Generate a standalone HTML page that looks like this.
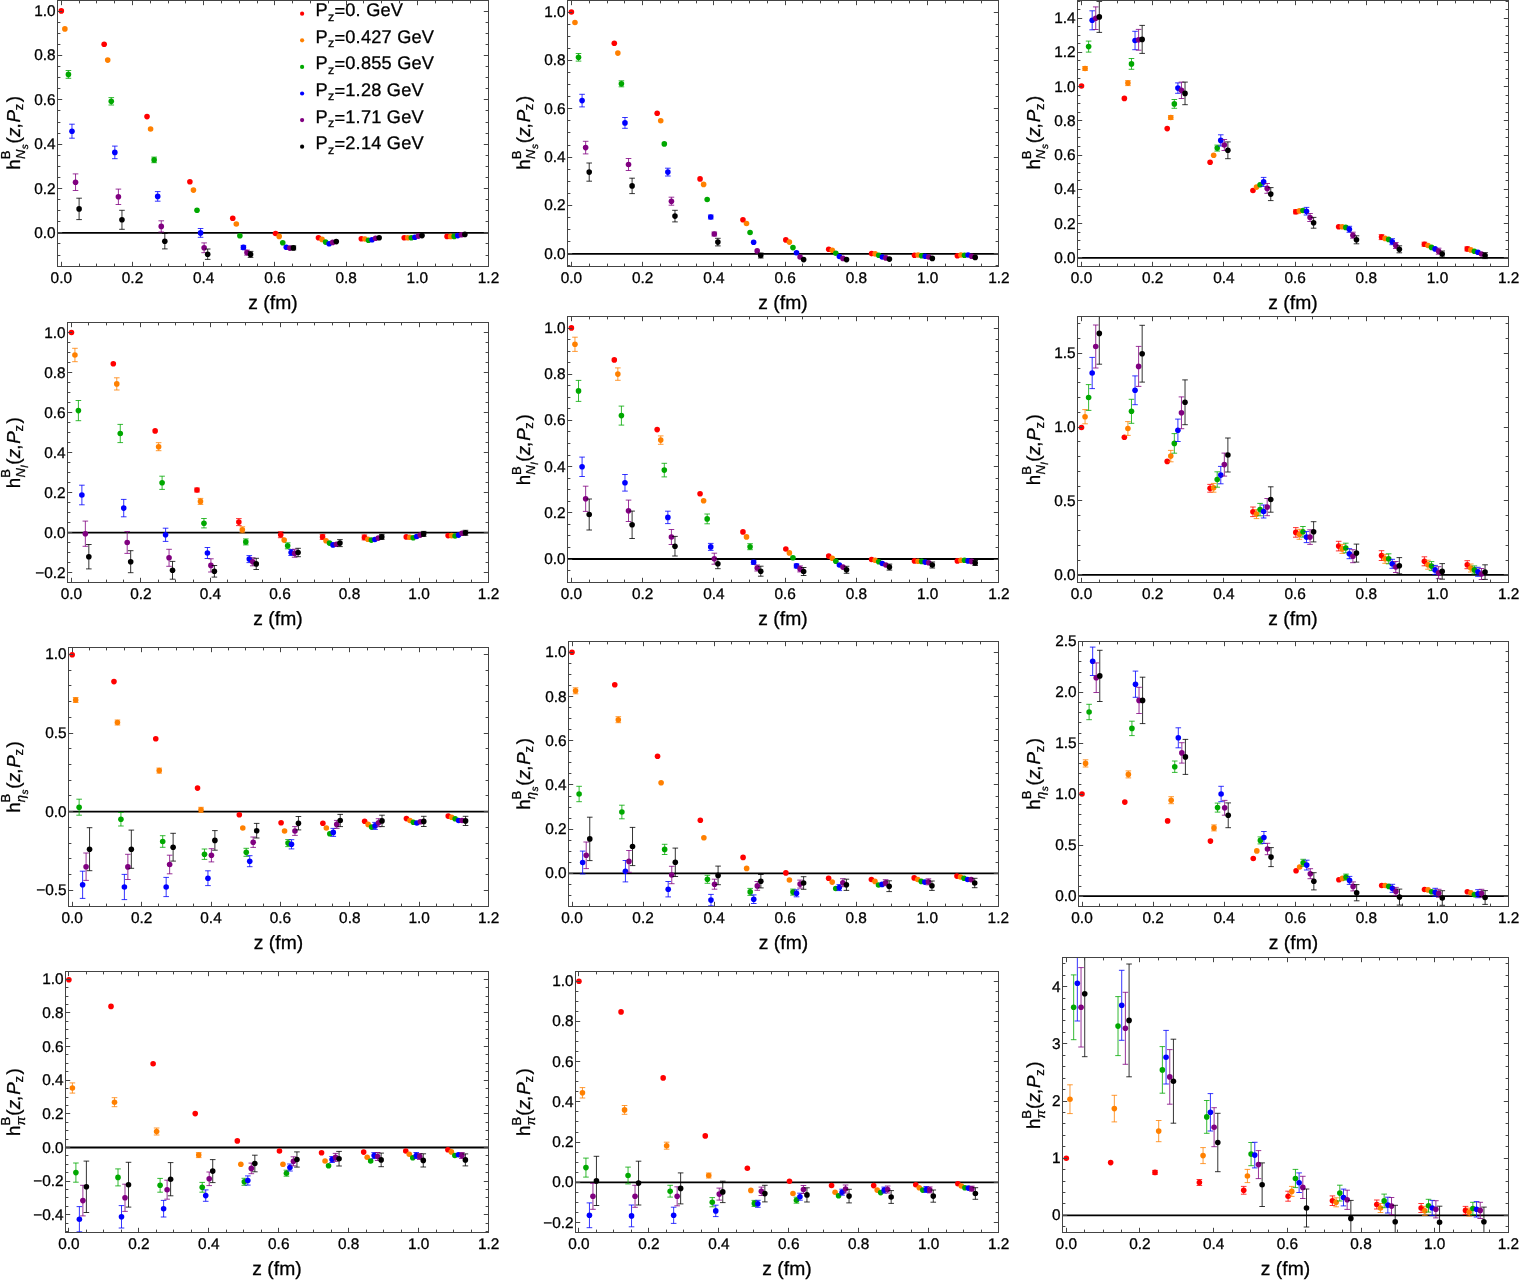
<!DOCTYPE html><html><head><meta charset="utf-8"><title>h^B(z,Pz) plots</title><style>html,body{margin:0;padding:0;background:#fff;overflow:hidden}svg{display:block}text{stroke:#000;stroke-width:0.3px}</style></head><body><svg width="1519" height="1280" viewBox="0 0 1519 1280" font-family='"Liberation Sans", Arial, Helvetica, sans-serif' fill="#000" text-rendering="geometricPrecision"><rect width="1519" height="1280" fill="#fff"/><clipPath id="c0"><rect x="57.50" y="0.50" width="431.00" height="266.00"/></clipPath><g clip-path="url(#c0)">
<line x1="57.50" y1="232.90" x2="488.50" y2="232.90" stroke="#000" stroke-width="1.8"/>
<path d="M275.61 232.50V234.50M272.81 232.50h5.60M272.81 234.50h5.60" stroke="#ff0000" stroke-width="0.8" fill="none"/>
<g fill="#ff0000"><circle cx="61.30" cy="10.90" r="2.8"/><circle cx="104.16" cy="44.20" r="2.8"/><circle cx="147.02" cy="116.60" r="2.8"/><circle cx="189.89" cy="181.80" r="2.8"/><circle cx="232.75" cy="218.30" r="2.8"/><circle cx="275.61" cy="233.50" r="2.8"/><circle cx="318.47" cy="237.80" r="2.8"/><circle cx="361.34" cy="238.70" r="2.8"/><circle cx="404.20" cy="237.80" r="2.8"/><circle cx="447.06" cy="236.40" r="2.8"/></g>
<g fill="#ff8000"><circle cx="64.86" cy="28.90" r="2.8"/><circle cx="107.72" cy="60.10" r="2.8"/><circle cx="150.58" cy="129.00" r="2.8"/><circle cx="193.45" cy="190.10" r="2.8"/><circle cx="236.31" cy="224.00" r="2.8"/><circle cx="279.17" cy="236.40" r="2.8"/><circle cx="322.03" cy="239.40" r="2.8"/><circle cx="364.90" cy="239.00" r="2.8"/><circle cx="407.76" cy="237.80" r="2.8"/><circle cx="450.62" cy="236.40" r="2.8"/></g>
<path d="M68.42 70.50V78.30M65.62 70.50h5.60M65.62 78.30h5.60M111.28 97.60V105.00M108.48 97.60h5.60M108.48 105.00h5.60M154.14 157.10V162.70M151.34 157.10h5.60M151.34 162.70h5.60" stroke="#00a800" stroke-width="0.8" fill="none"/>
<g fill="#00a800"><circle cx="68.42" cy="74.40" r="2.8"/><circle cx="111.28" cy="101.30" r="2.8"/><circle cx="154.14" cy="159.90" r="2.8"/><circle cx="197.01" cy="210.20" r="2.8"/><circle cx="239.87" cy="235.80" r="2.8"/><circle cx="282.73" cy="242.80" r="2.8"/><circle cx="325.59" cy="242.10" r="2.8"/><circle cx="368.46" cy="240.20" r="2.8"/><circle cx="411.32" cy="237.80" r="2.8"/><circle cx="454.18" cy="236.40" r="2.8"/></g>
<path d="M71.98 124.20V138.20M69.18 124.20h5.60M69.18 138.20h5.60M114.84 146.10V158.70M112.04 146.10h5.60M112.04 158.70h5.60M157.70 191.60V201.20M154.90 191.60h5.60M154.90 201.20h5.60M200.57 228.50V237.30M197.77 228.50h5.60M197.77 237.30h5.60M243.43 245.40V249.40M240.63 245.40h5.60M240.63 249.40h5.60" stroke="#0000ff" stroke-width="0.8" fill="none"/>
<g fill="#0000ff"><circle cx="71.98" cy="131.20" r="2.8"/><circle cx="114.84" cy="152.40" r="2.8"/><circle cx="157.70" cy="196.40" r="2.8"/><circle cx="200.57" cy="232.90" r="2.8"/><circle cx="243.43" cy="247.40" r="2.8"/><circle cx="286.29" cy="247.20" r="2.8"/><circle cx="329.15" cy="243.80" r="2.8"/><circle cx="372.02" cy="239.70" r="2.8"/><circle cx="414.88" cy="237.30" r="2.8"/><circle cx="457.74" cy="235.60" r="2.8"/></g>
<path d="M75.54 173.90V190.50M72.74 173.90h5.60M72.74 190.50h5.60M118.40 189.10V204.50M115.60 189.10h5.60M115.60 204.50h5.60M161.26 220.80V232.00M158.46 220.80h5.60M158.46 232.00h5.60M204.13 242.90V252.70M201.33 242.90h5.60M201.33 252.70h5.60M246.99 250.10V255.10M244.19 250.10h5.60M244.19 255.10h5.60M289.85 247.10V249.10M287.05 247.10h5.60M287.05 249.10h5.60" stroke="#800080" stroke-width="0.8" fill="none"/>
<g fill="#800080"><circle cx="75.54" cy="182.20" r="2.8"/><circle cx="118.40" cy="196.80" r="2.8"/><circle cx="161.26" cy="226.40" r="2.8"/><circle cx="204.13" cy="247.80" r="2.8"/><circle cx="246.99" cy="252.60" r="2.8"/><circle cx="289.85" cy="248.10" r="2.8"/><circle cx="332.71" cy="242.40" r="2.8"/><circle cx="375.58" cy="238.20" r="2.8"/><circle cx="418.44" cy="236.10" r="2.8"/><circle cx="461.30" cy="234.70" r="2.8"/></g>
<path d="M79.10 198.20V219.60M76.30 198.20h5.60M76.30 219.60h5.60M121.96 210.30V229.30M119.16 210.30h5.60M119.16 229.30h5.60M164.82 233.50V248.90M162.02 233.50h5.60M162.02 248.90h5.60M207.69 249.00V259.40M204.89 249.00h5.60M204.89 259.40h5.60M250.55 251.40V257.40M247.75 251.40h5.60M247.75 257.40h5.60M293.41 245.90V249.90M290.61 245.90h5.60M290.61 249.90h5.60" stroke="#000000" stroke-width="0.8" fill="none"/>
<g fill="#000000"><circle cx="79.10" cy="208.90" r="2.8"/><circle cx="121.96" cy="219.80" r="2.8"/><circle cx="164.82" cy="241.20" r="2.8"/><circle cx="207.69" cy="254.20" r="2.8"/><circle cx="250.55" cy="254.40" r="2.8"/><circle cx="293.41" cy="247.90" r="2.8"/><circle cx="336.27" cy="241.60" r="2.8"/><circle cx="379.14" cy="237.80" r="2.8"/><circle cx="422.00" cy="235.60" r="2.8"/><circle cx="464.86" cy="234.40" r="2.8"/></g>
</g>
<rect x="57.50" y="0.50" width="431.00" height="266.00" fill="none" stroke="#444444" stroke-width="1"/>
<path d="M61.50 266.50v-4.7M61.50 0.50v4.7M79.50 266.50v-2.9M79.50 0.50v2.9M96.50 266.50v-2.9M96.50 0.50v2.9M114.50 266.50v-2.9M114.50 0.50v2.9M132.50 266.50v-4.7M132.50 0.50v4.7M150.50 266.50v-2.9M150.50 0.50v2.9M168.50 266.50v-2.9M168.50 0.50v2.9M185.50 266.50v-2.9M185.50 0.50v2.9M203.50 266.50v-4.7M203.50 0.50v4.7M221.50 266.50v-2.9M221.50 0.50v2.9M239.50 266.50v-2.9M239.50 0.50v2.9M257.50 266.50v-2.9M257.50 0.50v2.9M274.50 266.50v-4.7M274.50 0.50v4.7M292.50 266.50v-2.9M292.50 0.50v2.9M310.50 266.50v-2.9M310.50 0.50v2.9M328.50 266.50v-2.9M328.50 0.50v2.9M346.50 266.50v-4.7M346.50 0.50v4.7M363.50 266.50v-2.9M363.50 0.50v2.9M381.50 266.50v-2.9M381.50 0.50v2.9M399.50 266.50v-2.9M399.50 0.50v2.9M417.50 266.50v-4.7M417.50 0.50v4.7M435.50 266.50v-2.9M435.50 0.50v2.9M452.50 266.50v-2.9M452.50 0.50v2.9M470.50 266.50v-2.9M470.50 0.50v2.9M488.50 266.50v-4.7M488.50 0.50v4.7M57.50 266.50h2.9M488.50 266.50h-2.9M57.50 255.50h2.9M488.50 255.50h-2.9M57.50 243.50h2.9M488.50 243.50h-2.9M57.50 232.50h4.7M488.50 232.50h-4.7M57.50 221.50h2.9M488.50 221.50h-2.9M57.50 210.50h2.9M488.50 210.50h-2.9M57.50 199.50h2.9M488.50 199.50h-2.9M57.50 188.50h4.7M488.50 188.50h-4.7M57.50 177.50h2.9M488.50 177.50h-2.9M57.50 166.50h2.9M488.50 166.50h-2.9M57.50 155.50h2.9M488.50 155.50h-2.9M57.50 144.50h4.7M488.50 144.50h-4.7M57.50 133.50h2.9M488.50 133.50h-2.9M57.50 122.50h2.9M488.50 122.50h-2.9M57.50 110.50h2.9M488.50 110.50h-2.9M57.50 99.50h4.7M488.50 99.50h-4.7M57.50 88.50h2.9M488.50 88.50h-2.9M57.50 77.50h2.9M488.50 77.50h-2.9M57.50 66.50h2.9M488.50 66.50h-2.9M57.50 55.50h4.7M488.50 55.50h-4.7M57.50 44.50h2.9M488.50 44.50h-2.9M57.50 33.50h2.9M488.50 33.50h-2.9M57.50 22.50h2.9M488.50 22.50h-2.9M57.50 11.50h4.7M488.50 11.50h-4.7M57.50 0.50h2.9M488.50 0.50h-2.9" stroke="#444444" stroke-width="1" fill="none"/>
<g font-size="15.4" text-anchor="middle"><text x="61.30" y="282.80">0.0</text><text x="132.50" y="282.80">0.2</text><text x="203.70" y="282.80">0.4</text><text x="274.90" y="282.80">0.6</text><text x="346.10" y="282.80">0.8</text><text x="417.30" y="282.80">1.0</text><text x="488.50" y="282.80">1.2</text></g>
<g font-size="15.4" text-anchor="end"><text x="55.60" y="237.90">0.0</text><text x="55.60" y="193.54">0.2</text><text x="55.60" y="149.18">0.4</text><text x="55.60" y="104.82">0.6</text><text x="55.60" y="60.46">0.8</text><text x="55.60" y="16.10">1.0</text></g>
<text x="273.00" y="308.50" text-anchor="middle" font-size="19.3">z (fm)</text>
<g transform="translate(19.50,169.74) rotate(-90)"><text x="0.00" y="0.00" font-size="18.8">h</text><text x="10.40" y="-9.05" font-size="13.0">B</text><text x="10.65" y="5.35" font-size="13.0" font-style="italic">N</text><text x="20.54" y="8.35" font-size="10.0" font-style="italic">s</text><text x="26.34" y="0.00" font-size="18.8">(</text><text x="32.80" y="0.00" font-size="18.8" font-style="italic">z</text><text x="41.20" y="0.00" font-size="18.8">,</text><text x="47.27" y="0.00" font-size="18.8" font-style="italic">P</text><text x="59.51" y="3.85" font-size="13.0">z</text><text x="67.61" y="0.00" font-size="18.8">)</text></g>
<clipPath id="c1"><rect x="567.50" y="0.50" width="431.00" height="266.00"/></clipPath><g clip-path="url(#c1)">
<line x1="567.50" y1="253.80" x2="998.50" y2="253.80" stroke="#000" stroke-width="1.8"/>
<g fill="#ff0000"><circle cx="571.40" cy="12.00" r="2.8"/><circle cx="614.29" cy="43.30" r="2.8"/><circle cx="657.17" cy="113.30" r="2.8"/><circle cx="700.06" cy="178.90" r="2.8"/><circle cx="742.95" cy="219.80" r="2.8"/><circle cx="785.83" cy="239.90" r="2.8"/><circle cx="828.72" cy="249.30" r="2.8"/><circle cx="871.61" cy="253.60" r="2.8"/><circle cx="914.49" cy="255.30" r="2.8"/><circle cx="957.38" cy="255.70" r="2.8"/></g>
<g fill="#ff8000"><circle cx="574.96" cy="22.50" r="2.8"/><circle cx="617.85" cy="53.10" r="2.8"/><circle cx="660.73" cy="120.70" r="2.8"/><circle cx="703.62" cy="184.40" r="2.8"/><circle cx="746.51" cy="223.50" r="2.8"/><circle cx="789.39" cy="242.10" r="2.8"/><circle cx="832.28" cy="250.20" r="2.8"/><circle cx="875.17" cy="253.90" r="2.8"/><circle cx="918.05" cy="255.00" r="2.8"/><circle cx="960.94" cy="255.00" r="2.8"/></g>
<path d="M578.52 53.50V61.10M575.72 53.50h5.60M575.72 61.10h5.60M621.41 80.80V86.80M618.61 80.80h5.60M618.61 86.80h5.60" stroke="#00a800" stroke-width="0.8" fill="none"/>
<g fill="#00a800"><circle cx="578.52" cy="57.30" r="2.8"/><circle cx="621.41" cy="83.80" r="2.8"/><circle cx="664.30" cy="143.90" r="2.8"/><circle cx="707.18" cy="199.50" r="2.8"/><circle cx="750.07" cy="232.50" r="2.8"/><circle cx="792.96" cy="247.60" r="2.8"/><circle cx="835.84" cy="253.30" r="2.8"/><circle cx="878.73" cy="255.30" r="2.8"/><circle cx="921.62" cy="255.80" r="2.8"/><circle cx="964.50" cy="255.30" r="2.8"/></g>
<path d="M582.09 94.30V106.90M579.29 94.30h5.60M579.29 106.90h5.60M624.97 117.50V128.30M622.17 117.50h5.60M622.17 128.30h5.60M667.86 168.20V176.00M665.06 168.20h5.60M665.06 176.00h5.60M710.75 215.00V219.00M707.95 215.00h5.60M707.95 219.00h5.60" stroke="#0000ff" stroke-width="0.8" fill="none"/>
<g fill="#0000ff"><circle cx="582.09" cy="100.60" r="2.8"/><circle cx="624.97" cy="122.90" r="2.8"/><circle cx="667.86" cy="172.10" r="2.8"/><circle cx="710.75" cy="217.00" r="2.8"/><circle cx="753.63" cy="242.30" r="2.8"/><circle cx="796.52" cy="252.70" r="2.8"/><circle cx="839.40" cy="256.50" r="2.8"/><circle cx="882.29" cy="257.00" r="2.8"/><circle cx="925.18" cy="256.20" r="2.8"/><circle cx="968.06" cy="255.00" r="2.8"/></g>
<path d="M585.65 141.30V153.90M582.85 141.30h5.60M582.85 153.90h5.60M628.53 158.50V170.50M625.73 158.50h5.60M625.73 170.50h5.60M671.42 197.20V205.20M668.62 197.20h5.60M668.62 205.20h5.60M714.31 232.00V236.00M711.51 232.00h5.60M711.51 236.00h5.60" stroke="#800080" stroke-width="0.8" fill="none"/>
<g fill="#800080"><circle cx="585.65" cy="147.60" r="2.8"/><circle cx="628.53" cy="164.50" r="2.8"/><circle cx="671.42" cy="201.20" r="2.8"/><circle cx="714.31" cy="234.00" r="2.8"/><circle cx="757.19" cy="250.90" r="2.8"/><circle cx="800.08" cy="257.00" r="2.8"/><circle cx="842.97" cy="258.40" r="2.8"/><circle cx="885.85" cy="257.90" r="2.8"/><circle cx="928.74" cy="257.00" r="2.8"/><circle cx="971.63" cy="256.20" r="2.8"/></g>
<path d="M589.21 163.00V181.20M586.41 163.00h5.60M586.41 181.20h5.60M632.10 178.20V193.60M629.30 178.20h5.60M629.30 193.60h5.60M674.98 210.30V221.90M672.18 210.30h5.60M672.18 221.90h5.60M717.87 238.30V245.90M715.07 238.30h5.60M715.07 245.90h5.60M760.76 253.00V258.00M757.96 253.00h5.60M757.96 258.00h5.60" stroke="#000000" stroke-width="0.8" fill="none"/>
<g fill="#000000"><circle cx="589.21" cy="172.10" r="2.8"/><circle cx="632.10" cy="185.90" r="2.8"/><circle cx="674.98" cy="216.10" r="2.8"/><circle cx="717.87" cy="242.10" r="2.8"/><circle cx="760.76" cy="255.50" r="2.8"/><circle cx="803.64" cy="259.60" r="2.8"/><circle cx="846.53" cy="259.60" r="2.8"/><circle cx="889.42" cy="259.10" r="2.8"/><circle cx="932.30" cy="258.40" r="2.8"/><circle cx="975.19" cy="257.40" r="2.8"/></g>
</g>
<rect x="567.50" y="0.50" width="431.00" height="266.00" fill="none" stroke="#444444" stroke-width="1"/>
<path d="M571.50 266.50v-4.7M571.50 0.50v4.7M589.50 266.50v-2.9M589.50 0.50v2.9M607.50 266.50v-2.9M607.50 0.50v2.9M624.50 266.50v-2.9M624.50 0.50v2.9M642.50 266.50v-4.7M642.50 0.50v4.7M660.50 266.50v-2.9M660.50 0.50v2.9M678.50 266.50v-2.9M678.50 0.50v2.9M696.50 266.50v-2.9M696.50 0.50v2.9M713.50 266.50v-4.7M713.50 0.50v4.7M731.50 266.50v-2.9M731.50 0.50v2.9M749.50 266.50v-2.9M749.50 0.50v2.9M767.50 266.50v-2.9M767.50 0.50v2.9M785.50 266.50v-4.7M785.50 0.50v4.7M802.50 266.50v-2.9M802.50 0.50v2.9M820.50 266.50v-2.9M820.50 0.50v2.9M838.50 266.50v-2.9M838.50 0.50v2.9M856.50 266.50v-4.7M856.50 0.50v4.7M874.50 266.50v-2.9M874.50 0.50v2.9M891.50 266.50v-2.9M891.50 0.50v2.9M909.50 266.50v-2.9M909.50 0.50v2.9M927.50 266.50v-4.7M927.50 0.50v4.7M945.50 266.50v-2.9M945.50 0.50v2.9M963.50 266.50v-2.9M963.50 0.50v2.9M981.50 266.50v-2.9M981.50 0.50v2.9M998.50 266.50v-4.7M998.50 0.50v4.7M567.50 265.50h2.9M998.50 265.50h-2.9M567.50 253.50h4.7M998.50 253.50h-4.7M567.50 241.50h2.9M998.50 241.50h-2.9M567.50 229.50h2.9M998.50 229.50h-2.9M567.50 217.50h2.9M998.50 217.50h-2.9M567.50 205.50h4.7M998.50 205.50h-4.7M567.50 193.50h2.9M998.50 193.50h-2.9M567.50 181.50h2.9M998.50 181.50h-2.9M567.50 169.50h2.9M998.50 169.50h-2.9M567.50 157.50h4.7M998.50 157.50h-4.7M567.50 145.50h2.9M998.50 145.50h-2.9M567.50 132.50h2.9M998.50 132.50h-2.9M567.50 120.50h2.9M998.50 120.50h-2.9M567.50 108.50h4.7M998.50 108.50h-4.7M567.50 96.50h2.9M998.50 96.50h-2.9M567.50 84.50h2.9M998.50 84.50h-2.9M567.50 72.50h2.9M998.50 72.50h-2.9M567.50 60.50h4.7M998.50 60.50h-4.7M567.50 48.50h2.9M998.50 48.50h-2.9M567.50 36.50h2.9M998.50 36.50h-2.9M567.50 24.50h2.9M998.50 24.50h-2.9M567.50 12.50h4.7M998.50 12.50h-4.7M567.50 0.50h2.9M998.50 0.50h-2.9" stroke="#444444" stroke-width="1" fill="none"/>
<g font-size="15.4" text-anchor="middle"><text x="571.40" y="282.80">0.0</text><text x="642.64" y="282.80">0.2</text><text x="713.88" y="282.80">0.4</text><text x="785.12" y="282.80">0.6</text><text x="856.36" y="282.80">0.8</text><text x="927.60" y="282.80">1.0</text><text x="998.84" y="282.80">1.2</text></g>
<g font-size="15.4" text-anchor="end"><text x="565.60" y="258.80">0.0</text><text x="565.60" y="210.46">0.2</text><text x="565.60" y="162.12">0.4</text><text x="565.60" y="113.78">0.6</text><text x="565.60" y="65.44">0.8</text><text x="565.60" y="17.10">1.0</text></g>
<text x="783.00" y="308.50" text-anchor="middle" font-size="19.3">z (fm)</text>
<g transform="translate(529.55,169.64) rotate(-90)"><text x="0.00" y="0.00" font-size="18.8">h</text><text x="10.40" y="-9.05" font-size="13.0">B</text><text x="10.65" y="5.35" font-size="13.0" font-style="italic">N</text><text x="20.54" y="8.35" font-size="10.0" font-style="italic">s</text><text x="26.34" y="0.00" font-size="18.8">(</text><text x="32.80" y="0.00" font-size="18.8" font-style="italic">z</text><text x="41.20" y="0.00" font-size="18.8">,</text><text x="47.27" y="0.00" font-size="18.8" font-style="italic">P</text><text x="59.51" y="3.85" font-size="13.0">z</text><text x="67.61" y="0.00" font-size="18.8">)</text></g>
<clipPath id="c2"><rect x="1077.50" y="0.50" width="431.00" height="266.00"/></clipPath><g clip-path="url(#c2)">
<line x1="1077.50" y1="257.80" x2="1508.50" y2="257.80" stroke="#000" stroke-width="1.8"/>
<path d="M1295.81 209.80V213.80M1293.01 209.80h5.60M1293.01 213.80h5.60M1381.54 234.60V239.60M1378.74 234.60h5.60M1378.74 239.60h5.60M1424.40 242.20V246.20M1421.60 242.20h5.60M1421.60 246.20h5.60M1467.26 246.90V250.90M1464.46 246.90h5.60M1464.46 250.90h5.60" stroke="#ff0000" stroke-width="0.8" fill="none"/>
<g fill="#ff0000"><circle cx="1081.50" cy="86.00" r="2.8"/><circle cx="1124.36" cy="98.40" r="2.8"/><circle cx="1167.22" cy="128.60" r="2.8"/><circle cx="1210.09" cy="162.30" r="2.8"/><circle cx="1252.95" cy="190.50" r="2.8"/><circle cx="1295.81" cy="211.80" r="2.8"/><circle cx="1338.67" cy="226.70" r="2.8"/><circle cx="1381.54" cy="237.10" r="2.8"/><circle cx="1424.40" cy="244.20" r="2.8"/><circle cx="1467.26" cy="248.90" r="2.8"/></g>
<path d="M1085.06 66.50V70.50M1082.26 66.50h5.60M1082.26 70.50h5.60M1127.92 80.60V85.60M1125.12 80.60h5.60M1125.12 85.60h5.60M1170.78 115.50V119.50M1167.98 115.50h5.60M1167.98 119.50h5.60" stroke="#ff8000" stroke-width="0.8" fill="none"/>
<g fill="#ff8000"><circle cx="1085.06" cy="68.50" r="2.8"/><circle cx="1127.92" cy="83.10" r="2.8"/><circle cx="1170.78" cy="117.50" r="2.8"/><circle cx="1213.65" cy="155.30" r="2.8"/><circle cx="1256.51" cy="187.10" r="2.8"/><circle cx="1299.37" cy="210.90" r="2.8"/><circle cx="1342.23" cy="226.70" r="2.8"/><circle cx="1385.10" cy="238.40" r="2.8"/><circle cx="1427.96" cy="245.50" r="2.8"/><circle cx="1470.82" cy="249.90" r="2.8"/></g>
<path d="M1088.62 41.10V52.10M1085.82 41.10h5.60M1085.82 52.10h5.60M1131.48 58.50V69.30M1128.68 58.50h5.60M1128.68 69.30h5.60M1174.34 99.50V108.30M1171.54 99.50h5.60M1171.54 108.30h5.60M1217.21 145.10V151.10M1214.41 145.10h5.60M1214.41 151.10h5.60" stroke="#00a800" stroke-width="0.8" fill="none"/>
<g fill="#00a800"><circle cx="1088.62" cy="46.60" r="2.8"/><circle cx="1131.48" cy="63.90" r="2.8"/><circle cx="1174.34" cy="103.90" r="2.8"/><circle cx="1217.21" cy="148.10" r="2.8"/><circle cx="1260.07" cy="184.80" r="2.8"/><circle cx="1302.93" cy="210.50" r="2.8"/><circle cx="1345.79" cy="227.40" r="2.8"/><circle cx="1388.66" cy="239.40" r="2.8"/><circle cx="1431.52" cy="247.40" r="2.8"/><circle cx="1474.38" cy="251.20" r="2.8"/></g>
<path d="M1092.18 10.80V29.80M1089.38 10.80h5.60M1089.38 29.80h5.60M1135.04 31.30V49.70M1132.24 31.30h5.60M1132.24 49.70h5.60M1177.90 82.90V93.30M1175.10 82.90h5.60M1175.10 93.30h5.60M1220.77 134.80V146.00M1217.97 134.80h5.60M1217.97 146.00h5.60M1263.63 177.40V186.40M1260.83 177.40h5.60M1260.83 186.40h5.60M1306.49 207.40V215.00M1303.69 207.40h5.60M1303.69 215.00h5.60M1349.35 226.30V232.30M1346.55 226.30h5.60M1346.55 232.30h5.60M1392.22 238.70V244.70M1389.42 238.70h5.60M1389.42 244.70h5.60" stroke="#0000ff" stroke-width="0.8" fill="none"/>
<g fill="#0000ff"><circle cx="1092.18" cy="20.30" r="2.8"/><circle cx="1135.04" cy="40.50" r="2.8"/><circle cx="1177.90" cy="88.10" r="2.8"/><circle cx="1220.77" cy="140.40" r="2.8"/><circle cx="1263.63" cy="181.90" r="2.8"/><circle cx="1306.49" cy="211.20" r="2.8"/><circle cx="1349.35" cy="229.30" r="2.8"/><circle cx="1392.22" cy="241.70" r="2.8"/><circle cx="1435.08" cy="248.90" r="2.8"/><circle cx="1477.94" cy="252.30" r="2.8"/></g>
<path d="M1095.74 6.90V29.50M1092.94 6.90h5.60M1092.94 29.50h5.60M1138.60 29.40V50.20M1135.80 29.40h5.60M1135.80 50.20h5.60M1181.46 82.10V98.50M1178.66 82.10h5.60M1178.66 98.50h5.60M1224.33 139.50V150.50M1221.53 139.50h5.60M1221.53 150.50h5.60M1267.19 183.50V193.30M1264.39 183.50h5.60M1264.39 193.30h5.60M1310.05 213.50V221.50M1307.25 213.50h5.60M1307.25 221.50h5.60M1352.91 232.20V238.20M1350.11 232.20h5.60M1350.11 238.20h5.60M1395.78 242.50V248.50M1392.98 242.50h5.60M1392.98 248.50h5.60M1438.64 248.20V254.20M1435.84 248.20h5.60M1435.84 254.20h5.60" stroke="#800080" stroke-width="0.8" fill="none"/>
<g fill="#800080"><circle cx="1095.74" cy="18.20" r="2.8"/><circle cx="1138.60" cy="39.80" r="2.8"/><circle cx="1181.46" cy="90.30" r="2.8"/><circle cx="1224.33" cy="145.00" r="2.8"/><circle cx="1267.19" cy="188.40" r="2.8"/><circle cx="1310.05" cy="217.50" r="2.8"/><circle cx="1352.91" cy="235.20" r="2.8"/><circle cx="1395.78" cy="245.50" r="2.8"/><circle cx="1438.64" cy="251.20" r="2.8"/><circle cx="1481.50" cy="254.00" r="2.8"/></g>
<path d="M1099.30 1.40V32.40M1096.50 1.40h5.60M1096.50 32.40h5.60M1142.16 25.40V53.40M1139.36 25.40h5.60M1139.36 53.40h5.60M1185.02 82.10V104.70M1182.22 82.10h5.60M1182.22 104.70h5.60M1227.89 141.90V158.70M1225.09 141.90h5.60M1225.09 158.70h5.60M1270.75 187.60V200.60M1267.95 187.60h5.60M1267.95 200.60h5.60M1313.61 217.40V228.20M1310.81 217.40h5.60M1310.81 228.20h5.60M1356.47 235.80V243.80M1353.67 235.80h5.60M1353.67 243.80h5.60M1399.34 245.80V252.80M1396.54 245.80h5.60M1396.54 252.80h5.60M1442.20 251.00V257.00M1439.40 251.00h5.60M1439.40 257.00h5.60M1485.06 252.60V258.60M1482.26 252.60h5.60M1482.26 258.60h5.60" stroke="#000000" stroke-width="0.8" fill="none"/>
<g fill="#000000"><circle cx="1099.30" cy="16.90" r="2.8"/><circle cx="1142.16" cy="39.40" r="2.8"/><circle cx="1185.02" cy="93.40" r="2.8"/><circle cx="1227.89" cy="150.30" r="2.8"/><circle cx="1270.75" cy="194.10" r="2.8"/><circle cx="1313.61" cy="222.80" r="2.8"/><circle cx="1356.47" cy="239.80" r="2.8"/><circle cx="1399.34" cy="249.30" r="2.8"/><circle cx="1442.20" cy="254.00" r="2.8"/><circle cx="1485.06" cy="255.60" r="2.8"/></g>
</g>
<rect x="1077.50" y="0.50" width="431.00" height="266.00" fill="none" stroke="#444444" stroke-width="1"/>
<path d="M1081.50 266.50v-4.7M1081.50 0.50v4.7M1099.50 266.50v-2.9M1099.50 0.50v2.9M1117.50 266.50v-2.9M1117.50 0.50v2.9M1134.50 266.50v-2.9M1134.50 0.50v2.9M1152.50 266.50v-4.7M1152.50 0.50v4.7M1170.50 266.50v-2.9M1170.50 0.50v2.9M1188.50 266.50v-2.9M1188.50 0.50v2.9M1206.50 266.50v-2.9M1206.50 0.50v2.9M1223.50 266.50v-4.7M1223.50 0.50v4.7M1241.50 266.50v-2.9M1241.50 0.50v2.9M1259.50 266.50v-2.9M1259.50 0.50v2.9M1277.50 266.50v-2.9M1277.50 0.50v2.9M1295.50 266.50v-4.7M1295.50 0.50v4.7M1312.50 266.50v-2.9M1312.50 0.50v2.9M1330.50 266.50v-2.9M1330.50 0.50v2.9M1348.50 266.50v-2.9M1348.50 0.50v2.9M1366.50 266.50v-4.7M1366.50 0.50v4.7M1384.50 266.50v-2.9M1384.50 0.50v2.9M1401.50 266.50v-2.9M1401.50 0.50v2.9M1419.50 266.50v-2.9M1419.50 0.50v2.9M1437.50 266.50v-4.7M1437.50 0.50v4.7M1455.50 266.50v-2.9M1455.50 0.50v2.9M1473.50 266.50v-2.9M1473.50 0.50v2.9M1490.50 266.50v-2.9M1490.50 0.50v2.9M1508.50 266.50v-4.7M1508.50 0.50v4.7M1077.50 266.50h2.9M1508.50 266.50h-2.9M1077.50 257.50h4.7M1508.50 257.50h-4.7M1077.50 249.50h2.9M1508.50 249.50h-2.9M1077.50 240.50h2.9M1508.50 240.50h-2.9M1077.50 232.50h2.9M1508.50 232.50h-2.9M1077.50 223.50h4.7M1508.50 223.50h-4.7M1077.50 215.50h2.9M1508.50 215.50h-2.9M1077.50 206.50h2.9M1508.50 206.50h-2.9M1077.50 197.50h2.9M1508.50 197.50h-2.9M1077.50 189.50h4.7M1508.50 189.50h-4.7M1077.50 180.50h2.9M1508.50 180.50h-2.9M1077.50 172.50h2.9M1508.50 172.50h-2.9M1077.50 163.50h2.9M1508.50 163.50h-2.9M1077.50 155.50h4.7M1508.50 155.50h-4.7M1077.50 146.50h2.9M1508.50 146.50h-2.9M1077.50 137.50h2.9M1508.50 137.50h-2.9M1077.50 129.50h2.9M1508.50 129.50h-2.9M1077.50 120.50h4.7M1508.50 120.50h-4.7M1077.50 112.50h2.9M1508.50 112.50h-2.9M1077.50 103.50h2.9M1508.50 103.50h-2.9M1077.50 95.50h2.9M1508.50 95.50h-2.9M1077.50 86.50h4.7M1508.50 86.50h-4.7M1077.50 78.50h2.9M1508.50 78.50h-2.9M1077.50 69.50h2.9M1508.50 69.50h-2.9M1077.50 60.50h2.9M1508.50 60.50h-2.9M1077.50 52.50h4.7M1508.50 52.50h-4.7M1077.50 43.50h2.9M1508.50 43.50h-2.9M1077.50 35.50h2.9M1508.50 35.50h-2.9M1077.50 26.50h2.9M1508.50 26.50h-2.9M1077.50 18.50h4.7M1508.50 18.50h-4.7M1077.50 9.50h2.9M1508.50 9.50h-2.9M1077.50 1.50h2.9M1508.50 1.50h-2.9" stroke="#444444" stroke-width="1" fill="none"/>
<g font-size="15.4" text-anchor="middle"><text x="1081.50" y="282.80">0.0</text><text x="1152.70" y="282.80">0.2</text><text x="1223.90" y="282.80">0.4</text><text x="1295.10" y="282.80">0.6</text><text x="1366.30" y="282.80">0.8</text><text x="1437.50" y="282.80">1.0</text><text x="1508.70" y="282.80">1.2</text></g>
<g font-size="15.4" text-anchor="end"><text x="1075.60" y="262.80">0.0</text><text x="1075.60" y="228.56">0.2</text><text x="1075.60" y="194.32">0.4</text><text x="1075.60" y="160.08">0.6</text><text x="1075.60" y="125.84">0.8</text><text x="1075.60" y="91.60">1.0</text><text x="1075.60" y="57.36">1.2</text><text x="1075.60" y="23.12">1.4</text></g>
<text x="1293.00" y="308.50" text-anchor="middle" font-size="19.3">z (fm)</text>
<g transform="translate(1039.75,169.59) rotate(-90)"><text x="0.00" y="0.00" font-size="18.8">h</text><text x="10.40" y="-9.05" font-size="13.0">B</text><text x="10.65" y="5.35" font-size="13.0" font-style="italic">N</text><text x="20.54" y="8.35" font-size="10.0" font-style="italic">s</text><text x="26.34" y="0.00" font-size="18.8">(</text><text x="32.80" y="0.00" font-size="18.8" font-style="italic">z</text><text x="41.20" y="0.00" font-size="18.8">,</text><text x="47.27" y="0.00" font-size="18.8" font-style="italic">P</text><text x="59.51" y="3.85" font-size="13.0">z</text><text x="67.61" y="0.00" font-size="18.8">)</text></g>
<clipPath id="c3"><rect x="67.50" y="322.50" width="421.00" height="260.00"/></clipPath><g clip-path="url(#c3)">
<line x1="67.50" y1="532.70" x2="488.50" y2="532.70" stroke="#000" stroke-width="1.8"/>
<path d="M197.00 488.00V492.00M194.20 488.00h5.60M194.20 492.00h5.60M238.85 518.60V525.60M236.05 518.60h5.60M236.05 525.60h5.60M280.71 531.70V537.70M277.91 531.70h5.60M277.91 537.70h5.60M322.56 534.40V539.40M319.76 534.40h5.60M319.76 539.40h5.60M364.41 534.90V539.90M361.61 534.90h5.60M361.61 539.90h5.60" stroke="#ff0000" stroke-width="0.8" fill="none"/>
<g fill="#ff0000"><circle cx="71.45" cy="332.50" r="2.8"/><circle cx="113.30" cy="363.80" r="2.8"/><circle cx="155.15" cy="430.90" r="2.8"/><circle cx="197.00" cy="490.00" r="2.8"/><circle cx="238.85" cy="522.10" r="2.8"/><circle cx="280.71" cy="534.70" r="2.8"/><circle cx="322.56" cy="536.90" r="2.8"/><circle cx="364.41" cy="537.40" r="2.8"/><circle cx="406.26" cy="536.90" r="2.8"/><circle cx="448.11" cy="535.60" r="2.8"/></g>
<path d="M74.93 348.30V361.70M72.13 348.30h5.60M72.13 361.70h5.60M116.78 377.80V390.00M113.98 377.80h5.60M113.98 390.00h5.60M158.63 442.70V450.70M155.83 442.70h5.60M155.83 450.70h5.60M200.48 498.40V504.40M197.68 498.40h5.60M197.68 504.40h5.60M242.33 526.80V532.80M239.53 526.80h5.60M239.53 532.80h5.60" stroke="#ff8000" stroke-width="0.8" fill="none"/>
<g fill="#ff8000"><circle cx="74.93" cy="355.00" r="2.8"/><circle cx="116.78" cy="383.90" r="2.8"/><circle cx="158.63" cy="446.70" r="2.8"/><circle cx="200.48" cy="501.40" r="2.8"/><circle cx="242.33" cy="529.80" r="2.8"/><circle cx="284.18" cy="540.10" r="2.8"/><circle cx="326.03" cy="540.80" r="2.8"/><circle cx="367.88" cy="539.20" r="2.8"/><circle cx="409.73" cy="537.20" r="2.8"/><circle cx="451.59" cy="535.60" r="2.8"/></g>
<path d="M78.40 400.50V420.70M75.60 400.50h5.60M75.60 420.70h5.60M120.25 424.40V442.60M117.45 424.40h5.60M117.45 442.60h5.60M162.10 476.20V489.40M159.30 476.20h5.60M159.30 489.40h5.60M203.96 518.50V527.90M201.16 518.50h5.60M201.16 527.90h5.60M245.81 538.90V544.90M243.01 538.90h5.60M243.01 544.90h5.60M287.66 542.80V548.80M284.86 542.80h5.60M284.86 548.80h5.60" stroke="#00a800" stroke-width="0.8" fill="none"/>
<g fill="#00a800"><circle cx="78.40" cy="410.60" r="2.8"/><circle cx="120.25" cy="433.50" r="2.8"/><circle cx="162.10" cy="482.80" r="2.8"/><circle cx="203.96" cy="523.20" r="2.8"/><circle cx="245.81" cy="541.90" r="2.8"/><circle cx="287.66" cy="545.80" r="2.8"/><circle cx="329.51" cy="543.10" r="2.8"/><circle cx="371.36" cy="540.10" r="2.8"/><circle cx="413.21" cy="537.80" r="2.8"/><circle cx="455.06" cy="536.00" r="2.8"/></g>
<path d="M81.88 485.20V504.80M79.08 485.20h5.60M79.08 504.80h5.60M123.73 499.40V516.80M120.93 499.40h5.60M120.93 516.80h5.60M165.58 528.20V541.40M162.78 528.20h5.60M162.78 541.40h5.60M207.43 547.50V558.50M204.63 547.50h5.60M204.63 558.50h5.60M249.28 555.60V562.60M246.48 555.60h5.60M246.48 562.60h5.60M291.13 549.50V555.50M288.33 549.50h5.60M288.33 555.50h5.60" stroke="#0000ff" stroke-width="0.8" fill="none"/>
<g fill="#0000ff"><circle cx="81.88" cy="495.00" r="2.8"/><circle cx="123.73" cy="508.10" r="2.8"/><circle cx="165.58" cy="534.80" r="2.8"/><circle cx="207.43" cy="553.00" r="2.8"/><circle cx="249.28" cy="559.10" r="2.8"/><circle cx="291.13" cy="552.50" r="2.8"/><circle cx="332.98" cy="544.90" r="2.8"/><circle cx="374.84" cy="539.50" r="2.8"/><circle cx="416.69" cy="536.50" r="2.8"/><circle cx="458.54" cy="535.10" r="2.8"/></g>
<path d="M85.35 521.10V546.30M82.55 521.10h5.60M82.55 546.30h5.60M127.21 531.60V553.40M124.41 531.60h5.60M124.41 553.40h5.60M169.06 549.30V566.30M166.26 549.30h5.60M166.26 566.30h5.60M210.91 558.80V572.00M208.11 558.80h5.60M208.11 572.00h5.60M252.76 557.80V565.80M249.96 557.80h5.60M249.96 565.80h5.60M294.61 549.20V557.20M291.81 549.20h5.60M291.81 557.20h5.60" stroke="#800080" stroke-width="0.8" fill="none"/>
<g fill="#800080"><circle cx="85.35" cy="533.70" r="2.8"/><circle cx="127.21" cy="542.50" r="2.8"/><circle cx="169.06" cy="557.80" r="2.8"/><circle cx="210.91" cy="565.40" r="2.8"/><circle cx="252.76" cy="561.80" r="2.8"/><circle cx="294.61" cy="553.20" r="2.8"/><circle cx="336.46" cy="544.30" r="2.8"/><circle cx="378.31" cy="538.10" r="2.8"/><circle cx="420.16" cy="535.10" r="2.8"/><circle cx="462.01" cy="533.30" r="2.8"/></g>
<path d="M88.83 544.50V568.90M86.03 544.50h5.60M86.03 568.90h5.60M130.68 550.70V572.70M127.88 550.70h5.60M127.88 572.70h5.60M172.53 561.40V579.20M169.73 561.40h5.60M169.73 579.20h5.60M214.38 565.50V577.10M211.58 565.50h5.60M211.58 577.10h5.60M256.23 558.30V569.50M253.43 558.30h5.60M253.43 569.50h5.60M298.09 548.30V556.70M295.29 548.30h5.60M295.29 556.70h5.60M339.94 539.60V546.60M337.14 539.60h5.60M337.14 546.60h5.60M381.79 534.40V539.40M378.99 534.40h5.60M378.99 539.40h5.60M423.64 531.40V536.40M420.84 531.40h5.60M420.84 536.40h5.60M465.49 530.30V535.30M462.69 530.30h5.60M462.69 535.30h5.60" stroke="#000000" stroke-width="0.8" fill="none"/>
<g fill="#000000"><circle cx="88.83" cy="556.70" r="2.8"/><circle cx="130.68" cy="561.70" r="2.8"/><circle cx="172.53" cy="570.30" r="2.8"/><circle cx="214.38" cy="571.30" r="2.8"/><circle cx="256.23" cy="563.90" r="2.8"/><circle cx="298.09" cy="552.50" r="2.8"/><circle cx="339.94" cy="543.10" r="2.8"/><circle cx="381.79" cy="536.90" r="2.8"/><circle cx="423.64" cy="533.90" r="2.8"/><circle cx="465.49" cy="532.80" r="2.8"/></g>
</g>
<rect x="67.50" y="322.50" width="421.00" height="260.00" fill="none" stroke="#444444" stroke-width="1"/>
<path d="M71.50 582.50v-4.7M71.50 322.50v4.7M88.50 582.50v-2.9M88.50 322.50v2.9M106.50 582.50v-2.9M106.50 322.50v2.9M123.50 582.50v-2.9M123.50 322.50v2.9M140.50 582.50v-4.7M140.50 322.50v4.7M158.50 582.50v-2.9M158.50 322.50v2.9M175.50 582.50v-2.9M175.50 322.50v2.9M193.50 582.50v-2.9M193.50 322.50v2.9M210.50 582.50v-4.7M210.50 322.50v4.7M227.50 582.50v-2.9M227.50 322.50v2.9M245.50 582.50v-2.9M245.50 322.50v2.9M262.50 582.50v-2.9M262.50 322.50v2.9M280.50 582.50v-4.7M280.50 322.50v4.7M297.50 582.50v-2.9M297.50 322.50v2.9M314.50 582.50v-2.9M314.50 322.50v2.9M332.50 582.50v-2.9M332.50 322.50v2.9M349.50 582.50v-4.7M349.50 322.50v4.7M366.50 582.50v-2.9M366.50 322.50v2.9M384.50 582.50v-2.9M384.50 322.50v2.9M401.50 582.50v-2.9M401.50 322.50v2.9M419.50 582.50v-4.7M419.50 322.50v4.7M436.50 582.50v-2.9M436.50 322.50v2.9M453.50 582.50v-2.9M453.50 322.50v2.9M471.50 582.50v-2.9M471.50 322.50v2.9M488.50 582.50v-4.7M488.50 322.50v4.7M67.50 572.50h4.7M488.50 572.50h-4.7M67.50 562.50h2.9M488.50 562.50h-2.9M67.50 552.50h2.9M488.50 552.50h-2.9M67.50 542.50h2.9M488.50 542.50h-2.9M67.50 532.50h4.7M488.50 532.50h-4.7M67.50 522.50h2.9M488.50 522.50h-2.9M67.50 512.50h2.9M488.50 512.50h-2.9M67.50 502.50h2.9M488.50 502.50h-2.9M67.50 492.50h4.7M488.50 492.50h-4.7M67.50 482.50h2.9M488.50 482.50h-2.9M67.50 472.50h2.9M488.50 472.50h-2.9M67.50 462.50h2.9M488.50 462.50h-2.9M67.50 452.50h4.7M488.50 452.50h-4.7M67.50 442.50h2.9M488.50 442.50h-2.9M67.50 432.50h2.9M488.50 432.50h-2.9M67.50 422.50h2.9M488.50 422.50h-2.9M67.50 412.50h4.7M488.50 412.50h-4.7M67.50 402.50h2.9M488.50 402.50h-2.9M67.50 392.50h2.9M488.50 392.50h-2.9M67.50 382.50h2.9M488.50 382.50h-2.9M67.50 372.50h4.7M488.50 372.50h-4.7M67.50 362.50h2.9M488.50 362.50h-2.9M67.50 352.50h2.9M488.50 352.50h-2.9M67.50 342.50h2.9M488.50 342.50h-2.9M67.50 332.50h4.7M488.50 332.50h-4.7M67.50 322.50h2.9M488.50 322.50h-2.9" stroke="#444444" stroke-width="1" fill="none"/>
<g font-size="15.4" text-anchor="middle"><text x="71.45" y="598.80">0.0</text><text x="140.97" y="598.80">0.2</text><text x="210.49" y="598.80">0.4</text><text x="280.01" y="598.80">0.6</text><text x="349.53" y="598.80">0.8</text><text x="419.05" y="598.80">1.0</text><text x="488.57" y="598.80">1.2</text></g>
<g font-size="15.4" text-anchor="end"><text x="65.60" y="577.74">−0.2</text><text x="65.60" y="537.70">0.0</text><text x="65.60" y="497.66">0.2</text><text x="65.60" y="457.62">0.4</text><text x="65.60" y="417.58">0.6</text><text x="65.60" y="377.54">0.8</text><text x="65.60" y="337.50">1.0</text></g>
<text x="278.00" y="624.50" text-anchor="middle" font-size="19.3">z (fm)</text>
<g transform="translate(19.50,488.25) rotate(-90)"><text x="0.00" y="0.00" font-size="18.8">h</text><text x="10.40" y="-9.05" font-size="13.0">B</text><text x="10.65" y="5.35" font-size="13.0" font-style="italic">N</text><text x="20.54" y="8.35" font-size="10.0" font-style="italic">l</text><text x="23.56" y="0.00" font-size="18.8">(</text><text x="30.02" y="0.00" font-size="18.8" font-style="italic">z</text><text x="38.42" y="0.00" font-size="18.8">,</text><text x="44.49" y="0.00" font-size="18.8" font-style="italic">P</text><text x="56.73" y="3.85" font-size="13.0">z</text><text x="64.83" y="0.00" font-size="18.8">)</text></g>
<clipPath id="c4"><rect x="567.50" y="316.50" width="431.00" height="266.00"/></clipPath><g clip-path="url(#c4)">
<line x1="567.50" y1="559.00" x2="998.50" y2="559.00" stroke="#000" stroke-width="1.8"/>
<g fill="#ff0000"><circle cx="571.40" cy="327.90" r="2.8"/><circle cx="614.29" cy="359.90" r="2.8"/><circle cx="657.17" cy="429.60" r="2.8"/><circle cx="700.06" cy="493.70" r="2.8"/><circle cx="742.95" cy="531.90" r="2.8"/><circle cx="785.83" cy="549.00" r="2.8"/><circle cx="828.72" cy="556.10" r="2.8"/><circle cx="871.61" cy="559.50" r="2.8"/><circle cx="914.49" cy="560.90" r="2.8"/><circle cx="957.38" cy="560.90" r="2.8"/></g>
<path d="M574.96 337.20V351.40M572.16 337.20h5.60M572.16 351.40h5.60M617.85 367.90V380.30M615.05 367.90h5.60M615.05 380.30h5.60M660.73 435.90V444.30M657.93 435.90h5.60M657.93 444.30h5.60" stroke="#ff8000" stroke-width="0.8" fill="none"/>
<g fill="#ff8000"><circle cx="574.96" cy="344.30" r="2.8"/><circle cx="617.85" cy="374.10" r="2.8"/><circle cx="660.73" cy="440.10" r="2.8"/><circle cx="703.62" cy="500.70" r="2.8"/><circle cx="746.51" cy="536.90" r="2.8"/><circle cx="789.39" cy="552.90" r="2.8"/><circle cx="832.28" cy="558.20" r="2.8"/><circle cx="875.17" cy="560.30" r="2.8"/><circle cx="918.05" cy="561.20" r="2.8"/><circle cx="960.94" cy="560.30" r="2.8"/></g>
<path d="M578.52 380.40V401.40M575.72 380.40h5.60M575.72 401.40h5.60M621.41 406.10V425.10M618.61 406.10h5.60M618.61 425.10h5.60M664.30 463.30V476.90M661.50 463.30h5.60M661.50 476.90h5.60M707.18 514.00V523.80M704.38 514.00h5.60M704.38 523.80h5.60M750.07 543.70V549.70M747.27 543.70h5.60M747.27 549.70h5.60" stroke="#00a800" stroke-width="0.8" fill="none"/>
<g fill="#00a800"><circle cx="578.52" cy="390.90" r="2.8"/><circle cx="621.41" cy="415.60" r="2.8"/><circle cx="664.30" cy="470.10" r="2.8"/><circle cx="707.18" cy="518.90" r="2.8"/><circle cx="750.07" cy="546.70" r="2.8"/><circle cx="792.96" cy="557.70" r="2.8"/><circle cx="835.84" cy="561.20" r="2.8"/><circle cx="878.73" cy="561.80" r="2.8"/><circle cx="921.62" cy="561.40" r="2.8"/><circle cx="964.50" cy="560.30" r="2.8"/></g>
<path d="M582.09 457.10V476.50M579.29 457.10h5.60M579.29 476.50h5.60M624.97 474.50V491.10M622.17 474.50h5.60M622.17 491.10h5.60M667.86 511.20V523.60M665.06 511.20h5.60M665.06 523.60h5.60M710.75 543.40V550.40M707.95 543.40h5.60M707.95 550.40h5.60M753.63 560.30V564.30M750.83 560.30h5.60M750.83 564.30h5.60M796.52 563.90V567.90M793.72 563.90h5.60M793.72 567.90h5.60" stroke="#0000ff" stroke-width="0.8" fill="none"/>
<g fill="#0000ff"><circle cx="582.09" cy="466.80" r="2.8"/><circle cx="624.97" cy="482.80" r="2.8"/><circle cx="667.86" cy="517.40" r="2.8"/><circle cx="710.75" cy="546.90" r="2.8"/><circle cx="753.63" cy="562.30" r="2.8"/><circle cx="796.52" cy="565.90" r="2.8"/><circle cx="839.40" cy="565.00" r="2.8"/><circle cx="882.29" cy="563.50" r="2.8"/><circle cx="925.18" cy="562.10" r="2.8"/><circle cx="968.06" cy="560.90" r="2.8"/></g>
<path d="M585.65 486.20V511.40M582.85 486.20h5.60M582.85 511.40h5.60M628.53 500.10V521.50M625.73 500.10h5.60M625.73 521.50h5.60M671.42 529.50V544.50M668.62 529.50h5.60M668.62 544.50h5.60M714.31 553.20V564.20M711.51 553.20h5.60M711.51 564.20h5.60M757.19 565.00V571.00M754.39 565.00h5.60M754.39 571.00h5.60M800.08 565.90V571.90M797.28 565.90h5.60M797.28 571.90h5.60" stroke="#800080" stroke-width="0.8" fill="none"/>
<g fill="#800080"><circle cx="585.65" cy="498.80" r="2.8"/><circle cx="628.53" cy="510.80" r="2.8"/><circle cx="671.42" cy="537.00" r="2.8"/><circle cx="714.31" cy="558.70" r="2.8"/><circle cx="757.19" cy="568.00" r="2.8"/><circle cx="800.08" cy="568.90" r="2.8"/><circle cx="842.97" cy="567.10" r="2.8"/><circle cx="885.85" cy="565.00" r="2.8"/><circle cx="928.74" cy="562.70" r="2.8"/><circle cx="971.63" cy="561.40" r="2.8"/></g>
<path d="M589.21 499.00V530.00M586.41 499.00h5.60M586.41 530.00h5.60M632.10 511.10V538.50M629.30 511.10h5.60M629.30 538.50h5.60M674.98 536.40V556.00M672.18 536.40h5.60M672.18 556.00h5.60M717.87 558.70V568.70M715.07 558.70h5.60M715.07 568.70h5.60M760.76 566.20V576.20M757.96 566.20h5.60M757.96 576.20h5.60M803.64 567.50V575.50M800.84 567.50h5.60M800.84 575.50h5.60M846.53 566.30V573.30M843.73 566.30h5.60M843.73 573.30h5.60M889.42 564.10V570.10M886.62 564.10h5.60M886.62 570.10h5.60M932.30 562.00V568.00M929.50 562.00h5.60M929.50 568.00h5.60M975.19 560.50V565.50M972.39 560.50h5.60M972.39 565.50h5.60" stroke="#000000" stroke-width="0.8" fill="none"/>
<g fill="#000000"><circle cx="589.21" cy="514.50" r="2.8"/><circle cx="632.10" cy="524.80" r="2.8"/><circle cx="674.98" cy="546.20" r="2.8"/><circle cx="717.87" cy="563.70" r="2.8"/><circle cx="760.76" cy="571.20" r="2.8"/><circle cx="803.64" cy="571.50" r="2.8"/><circle cx="846.53" cy="569.80" r="2.8"/><circle cx="889.42" cy="567.10" r="2.8"/><circle cx="932.30" cy="565.00" r="2.8"/><circle cx="975.19" cy="563.00" r="2.8"/></g>
</g>
<rect x="567.50" y="316.50" width="431.00" height="266.00" fill="none" stroke="#444444" stroke-width="1"/>
<path d="M571.50 582.50v-4.7M571.50 316.50v4.7M589.50 582.50v-2.9M589.50 316.50v2.9M607.50 582.50v-2.9M607.50 316.50v2.9M624.50 582.50v-2.9M624.50 316.50v2.9M642.50 582.50v-4.7M642.50 316.50v4.7M660.50 582.50v-2.9M660.50 316.50v2.9M678.50 582.50v-2.9M678.50 316.50v2.9M696.50 582.50v-2.9M696.50 316.50v2.9M713.50 582.50v-4.7M713.50 316.50v4.7M731.50 582.50v-2.9M731.50 316.50v2.9M749.50 582.50v-2.9M749.50 316.50v2.9M767.50 582.50v-2.9M767.50 316.50v2.9M785.50 582.50v-4.7M785.50 316.50v4.7M802.50 582.50v-2.9M802.50 316.50v2.9M820.50 582.50v-2.9M820.50 316.50v2.9M838.50 582.50v-2.9M838.50 316.50v2.9M856.50 582.50v-4.7M856.50 316.50v4.7M874.50 582.50v-2.9M874.50 316.50v2.9M891.50 582.50v-2.9M891.50 316.50v2.9M909.50 582.50v-2.9M909.50 316.50v2.9M927.50 582.50v-4.7M927.50 316.50v4.7M945.50 582.50v-2.9M945.50 316.50v2.9M963.50 582.50v-2.9M963.50 316.50v2.9M981.50 582.50v-2.9M981.50 316.50v2.9M998.50 582.50v-4.7M998.50 316.50v4.7M567.50 582.50h2.9M998.50 582.50h-2.9M567.50 570.50h2.9M998.50 570.50h-2.9M567.50 559.50h4.7M998.50 559.50h-4.7M567.50 547.50h2.9M998.50 547.50h-2.9M567.50 535.50h2.9M998.50 535.50h-2.9M567.50 524.50h2.9M998.50 524.50h-2.9M567.50 512.50h4.7M998.50 512.50h-4.7M567.50 501.50h2.9M998.50 501.50h-2.9M567.50 489.50h2.9M998.50 489.50h-2.9M567.50 478.50h2.9M998.50 478.50h-2.9M567.50 466.50h4.7M998.50 466.50h-4.7M567.50 455.50h2.9M998.50 455.50h-2.9M567.50 443.50h2.9M998.50 443.50h-2.9M567.50 431.50h2.9M998.50 431.50h-2.9M567.50 420.50h4.7M998.50 420.50h-4.7M567.50 408.50h2.9M998.50 408.50h-2.9M567.50 397.50h2.9M998.50 397.50h-2.9M567.50 385.50h2.9M998.50 385.50h-2.9M567.50 374.50h4.7M998.50 374.50h-4.7M567.50 362.50h2.9M998.50 362.50h-2.9M567.50 351.50h2.9M998.50 351.50h-2.9M567.50 339.50h2.9M998.50 339.50h-2.9M567.50 328.50h4.7M998.50 328.50h-4.7M567.50 316.50h2.9M998.50 316.50h-2.9" stroke="#444444" stroke-width="1" fill="none"/>
<g font-size="15.4" text-anchor="middle"><text x="571.40" y="598.80">0.0</text><text x="642.64" y="598.80">0.2</text><text x="713.88" y="598.80">0.4</text><text x="785.12" y="598.80">0.6</text><text x="856.36" y="598.80">0.8</text><text x="927.60" y="598.80">1.0</text><text x="998.84" y="598.80">1.2</text></g>
<g font-size="15.4" text-anchor="end"><text x="565.60" y="564.00">0.0</text><text x="565.60" y="517.80">0.2</text><text x="565.60" y="471.60">0.4</text><text x="565.60" y="425.40">0.6</text><text x="565.60" y="379.20">0.8</text><text x="565.60" y="333.00">1.0</text></g>
<text x="783.00" y="624.50" text-anchor="middle" font-size="19.3">z (fm)</text>
<g transform="translate(529.55,485.35) rotate(-90)"><text x="0.00" y="0.00" font-size="18.8">h</text><text x="10.40" y="-9.05" font-size="13.0">B</text><text x="10.65" y="5.35" font-size="13.0" font-style="italic">N</text><text x="20.54" y="8.35" font-size="10.0" font-style="italic">l</text><text x="23.56" y="0.00" font-size="18.8">(</text><text x="30.02" y="0.00" font-size="18.8" font-style="italic">z</text><text x="38.42" y="0.00" font-size="18.8">,</text><text x="44.49" y="0.00" font-size="18.8" font-style="italic">P</text><text x="56.73" y="3.85" font-size="13.0">z</text><text x="64.83" y="0.00" font-size="18.8">)</text></g>
<clipPath id="c5"><rect x="1077.50" y="316.50" width="431.00" height="266.00"/></clipPath><g clip-path="url(#c5)">
<line x1="1077.50" y1="574.80" x2="1508.50" y2="574.80" stroke="#000" stroke-width="1.8"/>
<path d="M1210.09 484.40V492.20M1207.29 484.40h5.60M1207.29 492.20h5.60M1252.95 507.00V516.60M1250.15 507.00h5.60M1250.15 516.60h5.60M1295.81 527.60V537.20M1293.01 527.60h5.60M1293.01 537.20h5.60M1338.67 541.30V550.90M1335.87 541.30h5.60M1335.87 550.90h5.60M1381.54 550.70V560.50M1378.74 550.70h5.60M1378.74 560.50h5.60M1424.40 556.80V565.80M1421.60 556.80h5.60M1421.60 565.80h5.60M1467.26 560.70V568.70M1464.46 560.70h5.60M1464.46 568.70h5.60" stroke="#ff0000" stroke-width="0.8" fill="none"/>
<g fill="#ff0000"><circle cx="1081.50" cy="427.50" r="2.8"/><circle cx="1124.36" cy="437.30" r="2.8"/><circle cx="1167.22" cy="461.40" r="2.8"/><circle cx="1210.09" cy="488.30" r="2.8"/><circle cx="1252.95" cy="511.80" r="2.8"/><circle cx="1295.81" cy="532.40" r="2.8"/><circle cx="1338.67" cy="546.10" r="2.8"/><circle cx="1381.54" cy="555.60" r="2.8"/><circle cx="1424.40" cy="561.30" r="2.8"/><circle cx="1467.26" cy="564.70" r="2.8"/></g>
<path d="M1085.06 409.60V423.80M1082.26 409.60h5.60M1082.26 423.80h5.60M1127.92 421.60V435.40M1125.12 421.60h5.60M1125.12 435.40h5.60M1170.78 450.40V461.80M1167.98 450.40h5.60M1167.98 461.80h5.60M1213.65 483.40V492.20M1210.85 483.40h5.60M1210.85 492.20h5.60M1256.51 509.60V518.60M1253.71 509.60h5.60M1253.71 518.60h5.60M1299.37 529.30V539.30M1296.57 529.30h5.60M1296.57 539.30h5.60M1342.23 544.40V553.40M1339.43 544.40h5.60M1339.43 553.40h5.60M1385.10 554.30V563.30M1382.30 554.30h5.60M1382.30 563.30h5.60M1427.96 560.20V569.20M1425.16 560.20h5.60M1425.16 569.20h5.60M1470.82 564.00V572.00M1468.02 564.00h5.60M1468.02 572.00h5.60" stroke="#ff8000" stroke-width="0.8" fill="none"/>
<g fill="#ff8000"><circle cx="1085.06" cy="416.70" r="2.8"/><circle cx="1127.92" cy="428.50" r="2.8"/><circle cx="1170.78" cy="456.10" r="2.8"/><circle cx="1213.65" cy="487.80" r="2.8"/><circle cx="1256.51" cy="514.10" r="2.8"/><circle cx="1299.37" cy="534.30" r="2.8"/><circle cx="1342.23" cy="548.90" r="2.8"/><circle cx="1385.10" cy="558.80" r="2.8"/><circle cx="1427.96" cy="564.70" r="2.8"/><circle cx="1470.82" cy="568.00" r="2.8"/></g>
<path d="M1088.62 384.60V410.40M1085.82 384.60h5.60M1085.82 410.40h5.60M1131.48 399.30V423.30M1128.68 399.30h5.60M1128.68 423.30h5.60M1174.34 433.60V453.20M1171.54 433.60h5.60M1171.54 453.20h5.60M1217.21 471.80V487.20M1214.41 471.80h5.60M1214.41 487.20h5.60M1260.07 503.40V515.80M1257.27 503.40h5.60M1257.27 515.80h5.60M1302.93 526.50V537.10M1300.13 526.50h5.60M1300.13 537.10h5.60M1345.79 543.20V552.80M1342.99 543.20h5.60M1342.99 552.80h5.60M1388.66 553.80V563.80M1385.86 553.80h5.60M1385.86 563.80h5.60M1431.52 561.60V570.60M1428.72 561.60h5.60M1428.72 570.60h5.60M1474.38 565.90V573.90M1471.58 565.90h5.60M1471.58 573.90h5.60" stroke="#00a800" stroke-width="0.8" fill="none"/>
<g fill="#00a800"><circle cx="1088.62" cy="397.50" r="2.8"/><circle cx="1131.48" cy="411.30" r="2.8"/><circle cx="1174.34" cy="443.40" r="2.8"/><circle cx="1217.21" cy="479.50" r="2.8"/><circle cx="1260.07" cy="509.60" r="2.8"/><circle cx="1302.93" cy="531.80" r="2.8"/><circle cx="1345.79" cy="548.00" r="2.8"/><circle cx="1388.66" cy="558.80" r="2.8"/><circle cx="1431.52" cy="566.10" r="2.8"/><circle cx="1474.38" cy="569.90" r="2.8"/></g>
<path d="M1092.18 357.40V388.60M1089.38 357.40h5.60M1089.38 388.60h5.60M1135.04 375.90V404.70M1132.24 375.90h5.60M1132.24 404.70h5.60M1177.90 419.10V441.50M1175.10 419.10h5.60M1175.10 441.50h5.60M1220.77 466.40V483.80M1217.97 466.40h5.60M1217.97 483.80h5.60M1263.63 505.00V518.00M1260.83 505.00h5.60M1260.83 518.00h5.60M1306.49 531.60V542.60M1303.69 531.60h5.60M1303.69 542.60h5.60M1349.35 548.70V558.70M1346.55 548.70h5.60M1346.55 558.70h5.60M1392.22 559.30V568.30M1389.42 559.30h5.60M1389.42 568.30h5.60M1435.08 565.40V574.40M1432.28 565.40h5.60M1432.28 574.40h5.60M1477.94 567.30V576.30M1475.14 567.30h5.60M1475.14 576.30h5.60" stroke="#0000ff" stroke-width="0.8" fill="none"/>
<g fill="#0000ff"><circle cx="1092.18" cy="373.00" r="2.8"/><circle cx="1135.04" cy="390.30" r="2.8"/><circle cx="1177.90" cy="430.30" r="2.8"/><circle cx="1220.77" cy="475.10" r="2.8"/><circle cx="1263.63" cy="511.50" r="2.8"/><circle cx="1306.49" cy="537.10" r="2.8"/><circle cx="1349.35" cy="553.70" r="2.8"/><circle cx="1392.22" cy="563.80" r="2.8"/><circle cx="1435.08" cy="569.90" r="2.8"/><circle cx="1477.94" cy="571.80" r="2.8"/></g>
<path d="M1095.74 325.00V368.00M1092.94 325.00h5.60M1092.94 368.00h5.60M1138.60 346.40V386.40M1135.80 346.40h5.60M1135.80 386.40h5.60M1181.46 396.90V428.70M1178.66 396.90h5.60M1178.66 428.70h5.60M1224.33 453.10V476.10M1221.53 453.10h5.60M1221.53 476.10h5.60M1267.19 498.50V515.70M1264.39 498.50h5.60M1264.39 515.70h5.60M1310.05 529.80V544.40M1307.25 529.80h5.60M1307.25 544.40h5.60M1352.91 549.70V562.70M1350.11 549.70h5.60M1350.11 562.70h5.60M1395.78 561.50V572.50M1392.98 561.50h5.60M1392.98 572.50h5.60M1438.64 566.70V578.70M1435.84 566.70h5.60M1435.84 578.70h5.60M1481.50 568.50V579.50M1478.70 568.50h5.60M1478.70 579.50h5.60" stroke="#800080" stroke-width="0.8" fill="none"/>
<g fill="#800080"><circle cx="1095.74" cy="346.50" r="2.8"/><circle cx="1138.60" cy="366.40" r="2.8"/><circle cx="1181.46" cy="412.80" r="2.8"/><circle cx="1224.33" cy="464.60" r="2.8"/><circle cx="1267.19" cy="507.10" r="2.8"/><circle cx="1310.05" cy="537.10" r="2.8"/><circle cx="1352.91" cy="556.20" r="2.8"/><circle cx="1395.78" cy="567.00" r="2.8"/><circle cx="1438.64" cy="572.70" r="2.8"/><circle cx="1481.50" cy="574.00" r="2.8"/></g>
<path d="M1099.30 302.60V364.20M1096.50 302.60h5.60M1096.50 364.20h5.60M1142.16 325.30V382.10M1139.36 325.30h5.60M1139.36 382.10h5.60M1185.02 379.90V424.70M1182.22 379.90h5.60M1182.22 424.70h5.60M1227.89 438.00V472.00M1225.09 438.00h5.60M1225.09 472.00h5.60M1270.75 486.80V512.20M1267.95 486.80h5.60M1267.95 512.20h5.60M1313.61 521.70V541.90M1310.81 521.70h5.60M1310.81 541.90h5.60M1356.47 544.10V562.10M1353.67 544.10h5.60M1353.67 562.10h5.60M1399.34 557.60V573.80M1396.54 557.60h5.60M1396.54 573.80h5.60M1442.20 563.60V579.20M1439.40 563.60h5.60M1439.40 579.20h5.60M1485.06 564.80V579.40M1482.26 564.80h5.60M1482.26 579.40h5.60" stroke="#000000" stroke-width="0.8" fill="none"/>
<g fill="#000000"><circle cx="1099.30" cy="333.40" r="2.8"/><circle cx="1142.16" cy="353.70" r="2.8"/><circle cx="1185.02" cy="402.30" r="2.8"/><circle cx="1227.89" cy="455.00" r="2.8"/><circle cx="1270.75" cy="499.50" r="2.8"/><circle cx="1313.61" cy="531.80" r="2.8"/><circle cx="1356.47" cy="553.10" r="2.8"/><circle cx="1399.34" cy="565.70" r="2.8"/><circle cx="1442.20" cy="571.40" r="2.8"/><circle cx="1485.06" cy="572.10" r="2.8"/></g>
</g>
<rect x="1077.50" y="316.50" width="431.00" height="266.00" fill="none" stroke="#444444" stroke-width="1"/>
<path d="M1081.50 582.50v-4.7M1081.50 316.50v4.7M1099.50 582.50v-2.9M1099.50 316.50v2.9M1117.50 582.50v-2.9M1117.50 316.50v2.9M1134.50 582.50v-2.9M1134.50 316.50v2.9M1152.50 582.50v-4.7M1152.50 316.50v4.7M1170.50 582.50v-2.9M1170.50 316.50v2.9M1188.50 582.50v-2.9M1188.50 316.50v2.9M1206.50 582.50v-2.9M1206.50 316.50v2.9M1223.50 582.50v-4.7M1223.50 316.50v4.7M1241.50 582.50v-2.9M1241.50 316.50v2.9M1259.50 582.50v-2.9M1259.50 316.50v2.9M1277.50 582.50v-2.9M1277.50 316.50v2.9M1295.50 582.50v-4.7M1295.50 316.50v4.7M1312.50 582.50v-2.9M1312.50 316.50v2.9M1330.50 582.50v-2.9M1330.50 316.50v2.9M1348.50 582.50v-2.9M1348.50 316.50v2.9M1366.50 582.50v-4.7M1366.50 316.50v4.7M1384.50 582.50v-2.9M1384.50 316.50v2.9M1401.50 582.50v-2.9M1401.50 316.50v2.9M1419.50 582.50v-2.9M1419.50 316.50v2.9M1437.50 582.50v-4.7M1437.50 316.50v4.7M1455.50 582.50v-2.9M1455.50 316.50v2.9M1473.50 582.50v-2.9M1473.50 316.50v2.9M1490.50 582.50v-2.9M1490.50 316.50v2.9M1508.50 582.50v-4.7M1508.50 316.50v4.7M1077.50 574.50h4.7M1508.50 574.50h-4.7M1077.50 560.50h2.9M1508.50 560.50h-2.9M1077.50 545.50h2.9M1508.50 545.50h-2.9M1077.50 530.50h2.9M1508.50 530.50h-2.9M1077.50 515.50h2.9M1508.50 515.50h-2.9M1077.50 500.50h4.7M1508.50 500.50h-4.7M1077.50 486.50h2.9M1508.50 486.50h-2.9M1077.50 471.50h2.9M1508.50 471.50h-2.9M1077.50 456.50h2.9M1508.50 456.50h-2.9M1077.50 441.50h2.9M1508.50 441.50h-2.9M1077.50 427.50h4.7M1508.50 427.50h-4.7M1077.50 412.50h2.9M1508.50 412.50h-2.9M1077.50 397.50h2.9M1508.50 397.50h-2.9M1077.50 382.50h2.9M1508.50 382.50h-2.9M1077.50 368.50h2.9M1508.50 368.50h-2.9M1077.50 353.50h4.7M1508.50 353.50h-4.7M1077.50 338.50h2.9M1508.50 338.50h-2.9M1077.50 323.50h2.9M1508.50 323.50h-2.9" stroke="#444444" stroke-width="1" fill="none"/>
<g font-size="15.4" text-anchor="middle"><text x="1081.50" y="598.80">0.0</text><text x="1152.70" y="598.80">0.2</text><text x="1223.90" y="598.80">0.4</text><text x="1295.10" y="598.80">0.6</text><text x="1366.30" y="598.80">0.8</text><text x="1437.50" y="598.80">1.0</text><text x="1508.70" y="598.80">1.2</text></g>
<g font-size="15.4" text-anchor="end"><text x="1075.60" y="579.80">0.0</text><text x="1075.60" y="505.95">0.5</text><text x="1075.60" y="432.10">1.0</text><text x="1075.60" y="358.25">1.5</text></g>
<text x="1293.00" y="624.50" text-anchor="middle" font-size="19.3">z (fm)</text>
<g transform="translate(1039.75,485.25) rotate(-90)"><text x="0.00" y="0.00" font-size="18.8">h</text><text x="10.40" y="-9.05" font-size="13.0">B</text><text x="10.65" y="5.35" font-size="13.0" font-style="italic">N</text><text x="20.54" y="8.35" font-size="10.0" font-style="italic">l</text><text x="23.56" y="0.00" font-size="18.8">(</text><text x="30.02" y="0.00" font-size="18.8" font-style="italic">z</text><text x="38.42" y="0.00" font-size="18.8">,</text><text x="44.49" y="0.00" font-size="18.8" font-style="italic">P</text><text x="56.73" y="3.85" font-size="13.0">z</text><text x="64.83" y="0.00" font-size="18.8">)</text></g>
<clipPath id="c6"><rect x="68.50" y="647.50" width="420.00" height="259.00"/></clipPath><g clip-path="url(#c6)">
<line x1="68.50" y1="811.70" x2="488.50" y2="811.70" stroke="#000" stroke-width="1.8"/>
<g fill="#ff0000"><circle cx="72.20" cy="654.70" r="2.8"/><circle cx="113.98" cy="681.60" r="2.8"/><circle cx="155.76" cy="738.70" r="2.8"/><circle cx="197.54" cy="788.10" r="2.8"/><circle cx="239.32" cy="814.70" r="2.8"/><circle cx="281.09" cy="822.70" r="2.8"/><circle cx="322.87" cy="823.20" r="2.8"/><circle cx="364.65" cy="821.20" r="2.8"/><circle cx="406.43" cy="818.60" r="2.8"/><circle cx="448.21" cy="816.10" r="2.8"/></g>
<path d="M75.67 697.50V702.50M72.87 697.50h5.60M72.87 702.50h5.60M117.45 720.00V725.00M114.65 720.00h5.60M114.65 725.00h5.60M159.23 768.10V773.10M156.43 768.10h5.60M156.43 773.10h5.60M201.01 807.30V812.30M198.21 807.30h5.60M198.21 812.30h5.60" stroke="#ff8000" stroke-width="0.8" fill="none"/>
<g fill="#ff8000"><circle cx="75.67" cy="700.00" r="2.8"/><circle cx="117.45" cy="722.50" r="2.8"/><circle cx="159.23" cy="770.60" r="2.8"/><circle cx="201.01" cy="809.80" r="2.8"/><circle cx="242.79" cy="828.00" r="2.8"/><circle cx="284.56" cy="831.00" r="2.8"/><circle cx="326.34" cy="828.00" r="2.8"/><circle cx="368.12" cy="824.40" r="2.8"/><circle cx="409.90" cy="820.50" r="2.8"/><circle cx="451.68" cy="817.30" r="2.8"/></g>
<path d="M79.14 799.20V815.20M76.34 799.20h5.60M76.34 815.20h5.60M120.92 812.40V826.00M118.12 812.40h5.60M118.12 826.00h5.60M162.70 835.70V847.30M159.90 835.70h5.60M159.90 847.30h5.60M204.48 849.00V859.40M201.68 849.00h5.60M201.68 859.40h5.60M246.26 848.30V856.30M243.46 848.30h5.60M243.46 856.30h5.60M288.03 839.60V846.60M285.23 839.60h5.60M285.23 846.60h5.60" stroke="#00a800" stroke-width="0.8" fill="none"/>
<g fill="#00a800"><circle cx="79.14" cy="807.20" r="2.8"/><circle cx="120.92" cy="819.20" r="2.8"/><circle cx="162.70" cy="841.50" r="2.8"/><circle cx="204.48" cy="854.20" r="2.8"/><circle cx="246.26" cy="852.30" r="2.8"/><circle cx="288.03" cy="843.10" r="2.8"/><circle cx="329.81" cy="833.70" r="2.8"/><circle cx="371.59" cy="827.10" r="2.8"/><circle cx="413.37" cy="822.30" r="2.8"/><circle cx="455.15" cy="818.70" r="2.8"/></g>
<path d="M82.61 871.20V898.40M79.81 871.20h5.60M79.81 898.40h5.60M124.39 874.40V899.60M121.59 874.40h5.60M121.59 899.60h5.60M166.17 877.40V896.60M163.37 877.40h5.60M163.37 896.60h5.60M207.95 870.80V885.60M205.15 870.80h5.60M205.15 885.60h5.60M249.73 855.70V866.70M246.93 855.70h5.60M246.93 866.70h5.60M291.50 839.70V848.90M288.70 839.70h5.60M288.70 848.90h5.60M333.28 828.40V836.40M330.48 828.40h5.60M330.48 836.40h5.60M375.06 822.40V829.40M372.26 822.40h5.60M372.26 829.40h5.60" stroke="#0000ff" stroke-width="0.8" fill="none"/>
<g fill="#0000ff"><circle cx="82.61" cy="884.80" r="2.8"/><circle cx="124.39" cy="887.00" r="2.8"/><circle cx="166.17" cy="887.00" r="2.8"/><circle cx="207.95" cy="878.20" r="2.8"/><circle cx="249.73" cy="861.20" r="2.8"/><circle cx="291.50" cy="844.30" r="2.8"/><circle cx="333.28" cy="832.40" r="2.8"/><circle cx="375.06" cy="825.90" r="2.8"/><circle cx="416.84" cy="823.00" r="2.8"/><circle cx="458.62" cy="820.50" r="2.8"/></g>
<path d="M86.08 853.00V880.40M83.28 853.00h5.60M83.28 880.40h5.60M127.86 854.30V879.50M125.06 854.30h5.60M125.06 879.50h5.60M169.64 855.20V873.80M166.84 855.20h5.60M166.84 873.80h5.60M211.42 848.70V861.90M208.62 848.70h5.60M208.62 861.90h5.60M253.20 837.00V847.40M250.40 837.00h5.60M250.40 847.40h5.60M294.97 826.60V835.40M292.17 826.60h5.60M292.17 835.40h5.60M336.75 820.40V828.40M333.95 820.40h5.60M333.95 828.40h5.60M378.53 818.70V826.70M375.73 818.70h5.60M375.73 826.70h5.60" stroke="#800080" stroke-width="0.8" fill="none"/>
<g fill="#800080"><circle cx="86.08" cy="866.70" r="2.8"/><circle cx="127.86" cy="866.90" r="2.8"/><circle cx="169.64" cy="864.50" r="2.8"/><circle cx="211.42" cy="855.30" r="2.8"/><circle cx="253.20" cy="842.20" r="2.8"/><circle cx="294.97" cy="831.00" r="2.8"/><circle cx="336.75" cy="824.40" r="2.8"/><circle cx="378.53" cy="822.70" r="2.8"/><circle cx="420.31" cy="821.80" r="2.8"/><circle cx="462.09" cy="820.50" r="2.8"/></g>
<path d="M89.55 827.70V870.70M86.75 827.70h5.60M86.75 870.70h5.60M131.33 830.10V868.30M128.53 830.10h5.60M128.53 868.30h5.60M173.11 833.30V861.10M170.31 833.30h5.60M170.31 861.10h5.60M214.89 830.60V850.20M212.09 830.60h5.60M212.09 850.20h5.60M256.67 823.40V838.00M253.87 823.40h5.60M253.87 838.00h5.60M298.44 816.50V829.90M295.64 816.50h5.60M295.64 829.90h5.60M340.22 814.40V826.60M337.42 814.40h5.60M337.42 826.60h5.60M382.00 815.20V826.60M379.20 815.20h5.60M379.20 826.60h5.60M423.78 816.30V826.50M420.98 816.30h5.60M420.98 826.50h5.60M465.56 816.30V825.50M462.76 816.30h5.60M462.76 825.50h5.60" stroke="#000000" stroke-width="0.8" fill="none"/>
<g fill="#000000"><circle cx="89.55" cy="849.20" r="2.8"/><circle cx="131.33" cy="849.20" r="2.8"/><circle cx="173.11" cy="847.20" r="2.8"/><circle cx="214.89" cy="840.40" r="2.8"/><circle cx="256.67" cy="830.70" r="2.8"/><circle cx="298.44" cy="823.20" r="2.8"/><circle cx="340.22" cy="820.50" r="2.8"/><circle cx="382.00" cy="820.90" r="2.8"/><circle cx="423.78" cy="821.40" r="2.8"/><circle cx="465.56" cy="820.90" r="2.8"/></g>
</g>
<rect x="68.50" y="647.50" width="420.00" height="259.00" fill="none" stroke="#444444" stroke-width="1"/>
<path d="M72.50 906.50v-4.7M72.50 647.50v4.7M89.50 906.50v-2.9M89.50 647.50v2.9M106.50 906.50v-2.9M106.50 647.50v2.9M124.50 906.50v-2.9M124.50 647.50v2.9M141.50 906.50v-4.7M141.50 647.50v4.7M158.50 906.50v-2.9M158.50 647.50v2.9M176.50 906.50v-2.9M176.50 647.50v2.9M193.50 906.50v-2.9M193.50 647.50v2.9M211.50 906.50v-4.7M211.50 647.50v4.7M228.50 906.50v-2.9M228.50 647.50v2.9M245.50 906.50v-2.9M245.50 647.50v2.9M263.50 906.50v-2.9M263.50 647.50v2.9M280.50 906.50v-4.7M280.50 647.50v4.7M297.50 906.50v-2.9M297.50 647.50v2.9M315.50 906.50v-2.9M315.50 647.50v2.9M332.50 906.50v-2.9M332.50 647.50v2.9M349.50 906.50v-4.7M349.50 647.50v4.7M367.50 906.50v-2.9M367.50 647.50v2.9M384.50 906.50v-2.9M384.50 647.50v2.9M401.50 906.50v-2.9M401.50 647.50v2.9M419.50 906.50v-4.7M419.50 647.50v4.7M436.50 906.50v-2.9M436.50 647.50v2.9M453.50 906.50v-2.9M453.50 647.50v2.9M471.50 906.50v-2.9M471.50 647.50v2.9M488.50 906.50v-4.7M488.50 647.50v4.7M68.50 906.50h2.9M488.50 906.50h-2.9M68.50 890.50h4.7M488.50 890.50h-4.7M68.50 874.50h2.9M488.50 874.50h-2.9M68.50 858.50h2.9M488.50 858.50h-2.9M68.50 843.50h2.9M488.50 843.50h-2.9M68.50 827.50h2.9M488.50 827.50h-2.9M68.50 811.50h4.7M488.50 811.50h-4.7M68.50 795.50h2.9M488.50 795.50h-2.9M68.50 780.50h2.9M488.50 780.50h-2.9M68.50 764.50h2.9M488.50 764.50h-2.9M68.50 748.50h2.9M488.50 748.50h-2.9M68.50 733.50h4.7M488.50 733.50h-4.7M68.50 717.50h2.9M488.50 717.50h-2.9M68.50 701.50h2.9M488.50 701.50h-2.9M68.50 685.50h2.9M488.50 685.50h-2.9M68.50 670.50h2.9M488.50 670.50h-2.9M68.50 654.50h4.7M488.50 654.50h-4.7" stroke="#444444" stroke-width="1" fill="none"/>
<g font-size="15.4" text-anchor="middle"><text x="72.20" y="922.80">0.0</text><text x="141.60" y="922.80">0.2</text><text x="211.00" y="922.80">0.4</text><text x="280.40" y="922.80">0.6</text><text x="349.80" y="922.80">0.8</text><text x="419.20" y="922.80">1.0</text><text x="488.60" y="922.80">1.2</text></g>
<g font-size="15.4" text-anchor="end"><text x="66.60" y="895.35">−0.5</text><text x="66.60" y="816.70">0.0</text><text x="66.60" y="738.05">0.5</text><text x="66.60" y="659.40">1.0</text></g>
<text x="278.50" y="948.50" text-anchor="middle" font-size="19.3">z (fm)</text>
<g transform="translate(19.50,812.85) rotate(-90)"><text x="0.00" y="0.00" font-size="18.8">h</text><text x="10.40" y="-9.05" font-size="13.0">B</text><text x="10.65" y="5.35" font-size="13.0" font-style="italic">η</text><text x="18.37" y="8.35" font-size="10.0" font-style="italic">s</text><text x="24.17" y="0.00" font-size="18.8">(</text><text x="30.63" y="0.00" font-size="18.8" font-style="italic">z</text><text x="39.03" y="0.00" font-size="18.8">,</text><text x="45.10" y="0.00" font-size="18.8" font-style="italic">P</text><text x="57.34" y="3.85" font-size="13.0">z</text><text x="65.44" y="0.00" font-size="18.8">)</text></g>
<clipPath id="c7"><rect x="568.50" y="641.50" width="430.00" height="265.00"/></clipPath><g clip-path="url(#c7)">
<line x1="568.50" y1="873.40" x2="998.50" y2="873.40" stroke="#000" stroke-width="1.8"/>
<g fill="#ff0000"><circle cx="572.00" cy="652.30" r="2.8"/><circle cx="614.77" cy="684.70" r="2.8"/><circle cx="657.54" cy="756.20" r="2.8"/><circle cx="700.32" cy="820.30" r="2.8"/><circle cx="743.09" cy="857.40" r="2.8"/><circle cx="785.86" cy="872.90" r="2.8"/><circle cx="828.63" cy="878.20" r="2.8"/><circle cx="871.40" cy="879.50" r="2.8"/><circle cx="914.18" cy="877.90" r="2.8"/><circle cx="956.95" cy="876.10" r="2.8"/></g>
<path d="M575.55 687.80V693.80M572.75 687.80h5.60M572.75 693.80h5.60M618.32 716.70V722.70M615.52 716.70h5.60M615.52 722.70h5.60" stroke="#ff8000" stroke-width="0.8" fill="none"/>
<g fill="#ff8000"><circle cx="575.55" cy="690.80" r="2.8"/><circle cx="618.32" cy="719.70" r="2.8"/><circle cx="661.10" cy="782.70" r="2.8"/><circle cx="703.87" cy="837.80" r="2.8"/><circle cx="746.64" cy="868.40" r="2.8"/><circle cx="789.41" cy="880.00" r="2.8"/><circle cx="832.19" cy="882.10" r="2.8"/><circle cx="874.96" cy="881.40" r="2.8"/><circle cx="917.73" cy="879.50" r="2.8"/><circle cx="960.50" cy="877.00" r="2.8"/></g>
<path d="M579.11 786.30V801.70M576.31 786.30h5.60M576.31 801.70h5.60M621.88 805.20V818.80M619.08 805.20h5.60M619.08 818.80h5.60M664.65 844.30V854.50M661.85 844.30h5.60M661.85 854.50h5.60M707.42 875.30V883.30M704.62 875.30h5.60M704.62 883.30h5.60M750.19 888.40V895.40M747.39 888.40h5.60M747.39 895.40h5.60M792.97 889.10V895.10M790.17 889.10h5.60M790.17 895.10h5.60" stroke="#00a800" stroke-width="0.8" fill="none"/>
<g fill="#00a800"><circle cx="579.11" cy="794.00" r="2.8"/><circle cx="621.88" cy="812.00" r="2.8"/><circle cx="664.65" cy="849.40" r="2.8"/><circle cx="707.42" cy="879.30" r="2.8"/><circle cx="750.19" cy="891.90" r="2.8"/><circle cx="792.97" cy="892.10" r="2.8"/><circle cx="835.74" cy="888.50" r="2.8"/><circle cx="878.51" cy="885.00" r="2.8"/><circle cx="921.28" cy="881.40" r="2.8"/><circle cx="964.05" cy="878.20" r="2.8"/></g>
<path d="M582.66 851.10V873.90M579.86 851.10h5.60M579.86 873.90h5.60M625.43 860.50V881.90M622.63 860.50h5.60M622.63 881.90h5.60M668.20 881.50V896.90M665.40 881.50h5.60M665.40 896.90h5.60M710.97 894.40V905.80M708.17 894.40h5.60M708.17 905.80h5.60M753.75 894.90V903.50M750.95 894.90h5.60M750.95 903.50h5.60M796.52 889.80V896.80M793.72 889.80h5.60M793.72 896.80h5.60M839.29 884.60V890.60M836.49 884.60h5.60M836.49 890.60h5.60" stroke="#0000ff" stroke-width="0.8" fill="none"/>
<g fill="#0000ff"><circle cx="582.66" cy="862.50" r="2.8"/><circle cx="625.43" cy="871.20" r="2.8"/><circle cx="668.20" cy="889.20" r="2.8"/><circle cx="710.97" cy="900.10" r="2.8"/><circle cx="753.75" cy="899.20" r="2.8"/><circle cx="796.52" cy="893.30" r="2.8"/><circle cx="839.29" cy="887.60" r="2.8"/><circle cx="882.06" cy="884.40" r="2.8"/><circle cx="924.83" cy="882.10" r="2.8"/><circle cx="967.61" cy="879.50" r="2.8"/></g>
<path d="M586.21 842.00V868.60M583.41 842.00h5.60M583.41 868.60h5.60M628.98 850.50V872.30M626.18 850.50h5.60M626.18 872.30h5.60M671.75 866.30V883.70M668.95 866.30h5.60M668.95 883.70h5.60M714.53 879.20V889.20M711.73 879.20h5.60M711.73 889.20h5.60M757.30 881.50V890.30M754.50 881.50h5.60M754.50 890.30h5.60M800.07 880.10V888.10M797.27 880.10h5.60M797.27 888.10h5.60M842.84 878.70V886.70M840.04 878.70h5.60M840.04 886.70h5.60M885.61 879.70V885.70M882.81 879.70h5.60M882.81 885.70h5.60M928.39 878.80V884.80M925.59 878.80h5.60M925.59 884.80h5.60" stroke="#800080" stroke-width="0.8" fill="none"/>
<g fill="#800080"><circle cx="586.21" cy="855.30" r="2.8"/><circle cx="628.98" cy="861.40" r="2.8"/><circle cx="671.75" cy="875.00" r="2.8"/><circle cx="714.53" cy="884.20" r="2.8"/><circle cx="757.30" cy="885.90" r="2.8"/><circle cx="800.07" cy="884.10" r="2.8"/><circle cx="842.84" cy="882.70" r="2.8"/><circle cx="885.61" cy="882.70" r="2.8"/><circle cx="928.39" cy="881.80" r="2.8"/><circle cx="971.16" cy="879.60" r="2.8"/></g>
<path d="M589.76 817.20V860.60M586.96 817.20h5.60M586.96 860.60h5.60M632.53 827.40V865.60M629.73 827.40h5.60M629.73 865.60h5.60M675.31 848.10V876.50M672.51 848.10h5.60M672.51 876.50h5.60M718.08 866.10V884.70M715.28 866.10h5.60M715.28 884.70h5.60M760.85 874.50V887.90M758.05 874.50h5.60M758.05 887.90h5.60M803.62 876.70V889.30M800.82 876.70h5.60M800.82 889.30h5.60M846.40 879.20V890.40M843.60 879.20h5.60M843.60 890.40h5.60M889.17 880.80V891.60M886.37 880.80h5.60M886.37 891.60h5.60M931.94 881.00V890.40M929.14 881.00h5.60M929.14 890.40h5.60M974.71 878.30V887.70M971.91 878.30h5.60M971.91 887.70h5.60" stroke="#000000" stroke-width="0.8" fill="none"/>
<g fill="#000000"><circle cx="589.76" cy="838.90" r="2.8"/><circle cx="632.53" cy="846.50" r="2.8"/><circle cx="675.31" cy="862.30" r="2.8"/><circle cx="718.08" cy="875.40" r="2.8"/><circle cx="760.85" cy="881.20" r="2.8"/><circle cx="803.62" cy="883.00" r="2.8"/><circle cx="846.40" cy="884.80" r="2.8"/><circle cx="889.17" cy="886.20" r="2.8"/><circle cx="931.94" cy="885.70" r="2.8"/><circle cx="974.71" cy="883.00" r="2.8"/></g>
</g>
<rect x="568.50" y="641.50" width="430.00" height="265.00" fill="none" stroke="#444444" stroke-width="1"/>
<path d="M572.50 906.50v-4.7M572.50 641.50v4.7M589.50 906.50v-2.9M589.50 641.50v2.9M607.50 906.50v-2.9M607.50 641.50v2.9M625.50 906.50v-2.9M625.50 641.50v2.9M643.50 906.50v-4.7M643.50 641.50v4.7M660.50 906.50v-2.9M660.50 641.50v2.9M678.50 906.50v-2.9M678.50 641.50v2.9M696.50 906.50v-2.9M696.50 641.50v2.9M714.50 906.50v-4.7M714.50 641.50v4.7M731.50 906.50v-2.9M731.50 641.50v2.9M749.50 906.50v-2.9M749.50 641.50v2.9M767.50 906.50v-2.9M767.50 641.50v2.9M785.50 906.50v-4.7M785.50 641.50v4.7M802.50 906.50v-2.9M802.50 641.50v2.9M820.50 906.50v-2.9M820.50 641.50v2.9M838.50 906.50v-2.9M838.50 641.50v2.9M856.50 906.50v-4.7M856.50 641.50v4.7M873.50 906.50v-2.9M873.50 641.50v2.9M891.50 906.50v-2.9M891.50 641.50v2.9M909.50 906.50v-2.9M909.50 641.50v2.9M927.50 906.50v-4.7M927.50 641.50v4.7M945.50 906.50v-2.9M945.50 641.50v2.9M962.50 906.50v-2.9M962.50 641.50v2.9M980.50 906.50v-2.9M980.50 641.50v2.9M998.50 906.50v-4.7M998.50 641.50v4.7M568.50 895.50h2.9M998.50 895.50h-2.9M568.50 884.50h2.9M998.50 884.50h-2.9M568.50 873.50h4.7M998.50 873.50h-4.7M568.50 862.50h2.9M998.50 862.50h-2.9M568.50 851.50h2.9M998.50 851.50h-2.9M568.50 840.50h2.9M998.50 840.50h-2.9M568.50 829.50h4.7M998.50 829.50h-4.7M568.50 818.50h2.9M998.50 818.50h-2.9M568.50 807.50h2.9M998.50 807.50h-2.9M568.50 796.50h2.9M998.50 796.50h-2.9M568.50 784.50h4.7M998.50 784.50h-4.7M568.50 773.50h2.9M998.50 773.50h-2.9M568.50 762.50h2.9M998.50 762.50h-2.9M568.50 751.50h2.9M998.50 751.50h-2.9M568.50 740.50h4.7M998.50 740.50h-4.7M568.50 729.50h2.9M998.50 729.50h-2.9M568.50 718.50h2.9M998.50 718.50h-2.9M568.50 707.50h2.9M998.50 707.50h-2.9M568.50 696.50h4.7M998.50 696.50h-4.7M568.50 685.50h2.9M998.50 685.50h-2.9M568.50 674.50h2.9M998.50 674.50h-2.9M568.50 663.50h2.9M998.50 663.50h-2.9M568.50 652.50h4.7M998.50 652.50h-4.7M568.50 641.50h2.9M998.50 641.50h-2.9" stroke="#444444" stroke-width="1" fill="none"/>
<g font-size="15.4" text-anchor="middle"><text x="572.00" y="922.80">0.0</text><text x="643.05" y="922.80">0.2</text><text x="714.10" y="922.80">0.4</text><text x="785.15" y="922.80">0.6</text><text x="856.20" y="922.80">0.8</text><text x="927.25" y="922.80">1.0</text><text x="998.30" y="922.80">1.2</text></g>
<g font-size="15.4" text-anchor="end"><text x="566.60" y="878.40">0.0</text><text x="566.60" y="834.18">0.2</text><text x="566.60" y="789.96">0.4</text><text x="566.60" y="745.74">0.6</text><text x="566.60" y="701.52">0.8</text><text x="566.60" y="657.30">1.0</text></g>
<text x="783.50" y="948.50" text-anchor="middle" font-size="19.3">z (fm)</text>
<g transform="translate(529.55,809.80) rotate(-90)"><text x="0.00" y="0.00" font-size="18.8">h</text><text x="10.40" y="-9.05" font-size="13.0">B</text><text x="10.65" y="5.35" font-size="13.0" font-style="italic">η</text><text x="18.37" y="8.35" font-size="10.0" font-style="italic">s</text><text x="24.17" y="0.00" font-size="18.8">(</text><text x="30.63" y="0.00" font-size="18.8" font-style="italic">z</text><text x="39.03" y="0.00" font-size="18.8">,</text><text x="45.10" y="0.00" font-size="18.8" font-style="italic">P</text><text x="57.34" y="3.85" font-size="13.0">z</text><text x="65.44" y="0.00" font-size="18.8">)</text></g>
<clipPath id="c8"><rect x="1078.50" y="641.50" width="430.00" height="265.00"/></clipPath><g clip-path="url(#c8)">
<line x1="1078.50" y1="896.20" x2="1508.50" y2="896.20" stroke="#000" stroke-width="1.8"/>
<g fill="#ff0000"><circle cx="1082.00" cy="794.00" r="2.8"/><circle cx="1124.81" cy="802.10" r="2.8"/><circle cx="1167.63" cy="820.90" r="2.8"/><circle cx="1210.44" cy="841.10" r="2.8"/><circle cx="1253.26" cy="858.50" r="2.8"/><circle cx="1296.07" cy="870.80" r="2.8"/><circle cx="1338.89" cy="879.80" r="2.8"/><circle cx="1381.70" cy="885.50" r="2.8"/><circle cx="1424.51" cy="889.50" r="2.8"/><circle cx="1467.33" cy="891.80" r="2.8"/></g>
<path d="M1085.56 759.80V767.00M1082.76 759.80h5.60M1082.76 767.00h5.60M1128.37 770.90V777.90M1125.57 770.90h5.60M1125.57 777.90h5.60M1171.18 796.70V803.70M1168.38 796.70h5.60M1168.38 803.70h5.60M1214.00 824.90V830.90M1211.20 824.90h5.60M1211.20 830.90h5.60" stroke="#ff8000" stroke-width="0.8" fill="none"/>
<g fill="#ff8000"><circle cx="1085.56" cy="763.40" r="2.8"/><circle cx="1128.37" cy="774.40" r="2.8"/><circle cx="1171.18" cy="800.20" r="2.8"/><circle cx="1214.00" cy="827.90" r="2.8"/><circle cx="1256.81" cy="850.90" r="2.8"/><circle cx="1299.63" cy="867.00" r="2.8"/><circle cx="1342.44" cy="878.40" r="2.8"/><circle cx="1385.26" cy="885.50" r="2.8"/><circle cx="1428.07" cy="889.90" r="2.8"/><circle cx="1470.88" cy="892.70" r="2.8"/></g>
<path d="M1089.11 704.30V719.70M1086.31 704.30h5.60M1086.31 719.70h5.60M1131.93 721.20V735.60M1129.13 721.20h5.60M1129.13 735.60h5.60M1174.74 761.00V772.40M1171.94 761.00h5.60M1171.94 772.40h5.60M1217.55 803.10V812.10M1214.75 803.10h5.60M1214.75 812.10h5.60M1260.37 836.90V843.90M1257.57 836.90h5.60M1257.57 843.90h5.60M1303.18 859.30V866.30M1300.38 859.30h5.60M1300.38 866.30h5.60M1346.00 874.10V880.10M1343.20 874.10h5.60M1343.20 880.10h5.60" stroke="#00a800" stroke-width="0.8" fill="none"/>
<g fill="#00a800"><circle cx="1089.11" cy="712.00" r="2.8"/><circle cx="1131.93" cy="728.40" r="2.8"/><circle cx="1174.74" cy="766.70" r="2.8"/><circle cx="1217.55" cy="807.60" r="2.8"/><circle cx="1260.37" cy="840.40" r="2.8"/><circle cx="1303.18" cy="862.80" r="2.8"/><circle cx="1346.00" cy="877.10" r="2.8"/><circle cx="1388.81" cy="886.40" r="2.8"/><circle cx="1431.63" cy="891.80" r="2.8"/><circle cx="1474.44" cy="894.60" r="2.8"/></g>
<path d="M1092.67 647.10V675.50M1089.87 647.10h5.60M1089.87 675.50h5.60M1135.48 671.10V697.30M1132.68 671.10h5.60M1132.68 697.30h5.60M1178.30 727.80V747.80M1175.50 727.80h5.60M1175.50 747.80h5.60M1221.11 786.30V801.70M1218.31 786.30h5.60M1218.31 801.70h5.60M1263.92 831.50V843.50M1261.12 831.50h5.60M1261.12 843.50h5.60M1306.74 860.20V870.00M1303.94 860.20h5.60M1303.94 870.00h5.60M1349.55 876.40V884.40M1346.75 876.40h5.60M1346.75 884.40h5.60M1392.37 884.30V892.30M1389.57 884.30h5.60M1389.57 892.30h5.60M1435.18 888.30V896.30M1432.38 888.30h5.60M1432.38 896.30h5.60M1478.00 889.70V897.70M1475.20 889.70h5.60M1475.20 897.70h5.60" stroke="#0000ff" stroke-width="0.8" fill="none"/>
<g fill="#0000ff"><circle cx="1092.67" cy="661.30" r="2.8"/><circle cx="1135.48" cy="684.20" r="2.8"/><circle cx="1178.30" cy="737.80" r="2.8"/><circle cx="1221.11" cy="794.00" r="2.8"/><circle cx="1263.92" cy="837.50" r="2.8"/><circle cx="1306.74" cy="865.10" r="2.8"/><circle cx="1349.55" cy="880.40" r="2.8"/><circle cx="1392.37" cy="888.30" r="2.8"/><circle cx="1435.18" cy="892.30" r="2.8"/><circle cx="1478.00" cy="893.70" r="2.8"/></g>
<path d="M1096.22 662.90V692.50M1093.42 662.90h5.60M1093.42 692.50h5.60M1139.04 687.30V713.50M1136.24 687.30h5.60M1136.24 713.50h5.60M1181.85 742.70V763.10M1179.05 742.70h5.60M1179.05 763.10h5.60M1224.67 800.40V815.20M1221.87 800.40h5.60M1221.87 815.20h5.60M1267.48 843.30V854.70M1264.68 843.30h5.60M1264.68 854.70h5.60M1310.30 868.70V878.70M1307.50 868.70h5.60M1307.50 878.70h5.60M1353.11 881.90V890.90M1350.31 881.90h5.60M1350.31 890.90h5.60M1395.92 887.40V895.40M1393.12 887.40h5.60M1393.12 895.40h5.60M1438.74 889.30V897.30M1435.94 889.30h5.60M1435.94 897.30h5.60M1481.55 889.30V897.30M1478.75 889.30h5.60M1478.75 897.30h5.60" stroke="#800080" stroke-width="0.8" fill="none"/>
<g fill="#800080"><circle cx="1096.22" cy="677.70" r="2.8"/><circle cx="1139.04" cy="700.40" r="2.8"/><circle cx="1181.85" cy="752.90" r="2.8"/><circle cx="1224.67" cy="807.80" r="2.8"/><circle cx="1267.48" cy="849.00" r="2.8"/><circle cx="1310.30" cy="873.70" r="2.8"/><circle cx="1353.11" cy="886.40" r="2.8"/><circle cx="1395.92" cy="891.40" r="2.8"/><circle cx="1438.74" cy="893.30" r="2.8"/><circle cx="1481.55" cy="893.30" r="2.8"/></g>
<path d="M1099.78 650.30V701.50M1096.98 650.30h5.60M1096.98 701.50h5.60M1142.59 677.20V723.60M1139.79 677.20h5.60M1139.79 723.60h5.60M1185.41 739.40V774.40M1182.61 739.40h5.60M1182.61 774.40h5.60M1228.22 802.90V827.70M1225.42 802.90h5.60M1225.42 827.70h5.60M1271.04 847.60V866.60M1268.24 847.60h5.60M1268.24 866.60h5.60M1313.85 872.70V889.90M1311.05 872.70h5.60M1311.05 889.90h5.60M1356.67 884.60V900.80M1353.87 884.60h5.60M1353.87 900.80h5.60M1399.48 889.10V905.10M1396.68 889.10h5.60M1396.68 905.10h5.60M1442.29 890.70V905.30M1439.49 890.70h5.60M1439.49 905.30h5.60M1485.11 890.60V904.40M1482.31 890.60h5.60M1482.31 904.40h5.60" stroke="#000000" stroke-width="0.8" fill="none"/>
<g fill="#000000"><circle cx="1099.78" cy="675.90" r="2.8"/><circle cx="1142.59" cy="700.40" r="2.8"/><circle cx="1185.41" cy="756.90" r="2.8"/><circle cx="1228.22" cy="815.30" r="2.8"/><circle cx="1271.04" cy="857.10" r="2.8"/><circle cx="1313.85" cy="881.30" r="2.8"/><circle cx="1356.67" cy="892.70" r="2.8"/><circle cx="1399.48" cy="897.10" r="2.8"/><circle cx="1442.29" cy="898.00" r="2.8"/><circle cx="1485.11" cy="897.50" r="2.8"/></g>
</g>
<rect x="1078.50" y="641.50" width="430.00" height="265.00" fill="none" stroke="#444444" stroke-width="1"/>
<path d="M1082.50 906.50v-4.7M1082.50 641.50v4.7M1099.50 906.50v-2.9M1099.50 641.50v2.9M1117.50 906.50v-2.9M1117.50 641.50v2.9M1135.50 906.50v-2.9M1135.50 641.50v2.9M1153.50 906.50v-4.7M1153.50 641.50v4.7M1170.50 906.50v-2.9M1170.50 641.50v2.9M1188.50 906.50v-2.9M1188.50 641.50v2.9M1206.50 906.50v-2.9M1206.50 641.50v2.9M1224.50 906.50v-4.7M1224.50 641.50v4.7M1242.50 906.50v-2.9M1242.50 641.50v2.9M1259.50 906.50v-2.9M1259.50 641.50v2.9M1277.50 906.50v-2.9M1277.50 641.50v2.9M1295.50 906.50v-4.7M1295.50 641.50v4.7M1313.50 906.50v-2.9M1313.50 641.50v2.9M1330.50 906.50v-2.9M1330.50 641.50v2.9M1348.50 906.50v-2.9M1348.50 641.50v2.9M1366.50 906.50v-4.7M1366.50 641.50v4.7M1384.50 906.50v-2.9M1384.50 641.50v2.9M1402.50 906.50v-2.9M1402.50 641.50v2.9M1419.50 906.50v-2.9M1419.50 641.50v2.9M1437.50 906.50v-4.7M1437.50 641.50v4.7M1455.50 906.50v-2.9M1455.50 641.50v2.9M1473.50 906.50v-2.9M1473.50 641.50v2.9M1490.50 906.50v-2.9M1490.50 641.50v2.9M1508.50 906.50v-4.7M1508.50 641.50v4.7M1078.50 906.50h2.9M1508.50 906.50h-2.9M1078.50 896.50h4.7M1508.50 896.50h-4.7M1078.50 886.50h2.9M1508.50 886.50h-2.9M1078.50 875.50h2.9M1508.50 875.50h-2.9M1078.50 865.50h2.9M1508.50 865.50h-2.9M1078.50 855.50h2.9M1508.50 855.50h-2.9M1078.50 845.50h4.7M1508.50 845.50h-4.7M1078.50 835.50h2.9M1508.50 835.50h-2.9M1078.50 824.50h2.9M1508.50 824.50h-2.9M1078.50 814.50h2.9M1508.50 814.50h-2.9M1078.50 804.50h2.9M1508.50 804.50h-2.9M1078.50 794.50h4.7M1508.50 794.50h-4.7M1078.50 784.50h2.9M1508.50 784.50h-2.9M1078.50 773.50h2.9M1508.50 773.50h-2.9M1078.50 763.50h2.9M1508.50 763.50h-2.9M1078.50 753.50h2.9M1508.50 753.50h-2.9M1078.50 743.50h4.7M1508.50 743.50h-4.7M1078.50 733.50h2.9M1508.50 733.50h-2.9M1078.50 722.50h2.9M1508.50 722.50h-2.9M1078.50 712.50h2.9M1508.50 712.50h-2.9M1078.50 702.50h2.9M1508.50 702.50h-2.9M1078.50 692.50h4.7M1508.50 692.50h-4.7M1078.50 682.50h2.9M1508.50 682.50h-2.9M1078.50 672.50h2.9M1508.50 672.50h-2.9M1078.50 661.50h2.9M1508.50 661.50h-2.9M1078.50 651.50h2.9M1508.50 651.50h-2.9M1078.50 641.50h4.7M1508.50 641.50h-4.7" stroke="#444444" stroke-width="1" fill="none"/>
<g font-size="15.4" text-anchor="middle"><text x="1082.00" y="922.80">0.0</text><text x="1153.12" y="922.80">0.2</text><text x="1224.24" y="922.80">0.4</text><text x="1295.36" y="922.80">0.6</text><text x="1366.48" y="922.80">0.8</text><text x="1437.60" y="922.80">1.0</text><text x="1508.72" y="922.80">1.2</text></g>
<g font-size="15.4" text-anchor="end"><text x="1076.60" y="901.20">0.0</text><text x="1076.60" y="850.25">0.5</text><text x="1076.60" y="799.30">1.0</text><text x="1076.60" y="748.35">1.5</text><text x="1076.60" y="697.40">2.0</text><text x="1076.60" y="646.45">2.5</text></g>
<text x="1293.50" y="948.50" text-anchor="middle" font-size="19.3">z (fm)</text>
<g transform="translate(1039.75,809.65) rotate(-90)"><text x="0.00" y="0.00" font-size="18.8">h</text><text x="10.40" y="-9.05" font-size="13.0">B</text><text x="10.65" y="5.35" font-size="13.0" font-style="italic">η</text><text x="18.37" y="8.35" font-size="10.0" font-style="italic">s</text><text x="24.17" y="0.00" font-size="18.8">(</text><text x="30.63" y="0.00" font-size="18.8" font-style="italic">z</text><text x="39.03" y="0.00" font-size="18.8">,</text><text x="45.10" y="0.00" font-size="18.8" font-style="italic">P</text><text x="57.34" y="3.85" font-size="13.0">z</text><text x="65.44" y="0.00" font-size="18.8">)</text></g>
<clipPath id="c9"><rect x="65.50" y="971.50" width="423.00" height="261.00"/></clipPath><g clip-path="url(#c9)">
<line x1="65.50" y1="1147.50" x2="488.50" y2="1147.50" stroke="#000" stroke-width="1.8"/>
<g fill="#ff0000"><circle cx="68.90" cy="979.70" r="2.8"/><circle cx="111.01" cy="1006.40" r="2.8"/><circle cx="153.12" cy="1063.70" r="2.8"/><circle cx="195.23" cy="1113.60" r="2.8"/><circle cx="237.34" cy="1140.90" r="2.8"/><circle cx="279.45" cy="1151.00" r="2.8"/><circle cx="321.56" cy="1152.80" r="2.8"/><circle cx="363.67" cy="1152.10" r="2.8"/><circle cx="405.78" cy="1151.00" r="2.8"/><circle cx="447.89" cy="1149.80" r="2.8"/></g>
<path d="M72.40 1082.90V1093.10M69.60 1082.90h5.60M69.60 1093.10h5.60M114.51 1097.70V1106.70M111.71 1097.70h5.60M111.71 1106.70h5.60M156.62 1128.00V1135.00M153.82 1128.00h5.60M153.82 1135.00h5.60M198.73 1152.60V1157.60M195.93 1152.60h5.60M195.93 1157.60h5.60" stroke="#ff8000" stroke-width="0.8" fill="none"/>
<g fill="#ff8000"><circle cx="72.40" cy="1088.00" r="2.8"/><circle cx="114.51" cy="1102.20" r="2.8"/><circle cx="156.62" cy="1131.50" r="2.8"/><circle cx="198.73" cy="1155.10" r="2.8"/><circle cx="240.84" cy="1164.30" r="2.8"/><circle cx="282.95" cy="1164.30" r="2.8"/><circle cx="325.06" cy="1161.00" r="2.8"/><circle cx="367.17" cy="1157.20" r="2.8"/><circle cx="409.28" cy="1154.20" r="2.8"/><circle cx="451.39" cy="1151.90" r="2.8"/></g>
<path d="M75.90 1163.00V1182.20M73.10 1163.00h5.60M73.10 1182.20h5.60M118.00 1168.90V1185.90M115.20 1168.90h5.60M115.20 1185.90h5.60M160.11 1178.40V1192.20M157.31 1178.40h5.60M157.31 1192.20h5.60M202.22 1182.40V1192.20M199.42 1182.40h5.60M199.42 1192.20h5.60M244.33 1178.30V1185.30M241.53 1178.30h5.60M241.53 1185.30h5.60M286.44 1170.20V1176.20M283.64 1170.20h5.60M283.64 1176.20h5.60" stroke="#00a800" stroke-width="0.8" fill="none"/>
<g fill="#00a800"><circle cx="75.90" cy="1172.60" r="2.8"/><circle cx="118.00" cy="1177.40" r="2.8"/><circle cx="160.11" cy="1185.30" r="2.8"/><circle cx="202.22" cy="1187.30" r="2.8"/><circle cx="244.33" cy="1181.80" r="2.8"/><circle cx="286.44" cy="1173.20" r="2.8"/><circle cx="328.55" cy="1165.80" r="2.8"/><circle cx="370.66" cy="1161.00" r="2.8"/><circle cx="412.77" cy="1157.80" r="2.8"/><circle cx="454.88" cy="1155.50" r="2.8"/></g>
<path d="M79.39 1206.60V1231.80M76.59 1206.60h5.60M76.59 1231.80h5.60M121.50 1205.60V1228.00M118.70 1205.60h5.60M118.70 1228.00h5.60M163.61 1200.40V1217.00M160.81 1200.40h5.60M160.81 1217.00h5.60M205.72 1189.90V1201.30M202.92 1189.90h5.60M202.92 1201.30h5.60M247.83 1175.90V1185.10M245.03 1175.90h5.60M245.03 1185.10h5.60M289.94 1164.00V1171.00M287.14 1164.00h5.60M287.14 1171.00h5.60M332.05 1156.50V1162.50M329.25 1156.50h5.60M329.25 1162.50h5.60M374.16 1152.60V1158.60M371.36 1152.60h5.60M371.36 1158.60h5.60M416.27 1152.50V1158.50M413.47 1152.50h5.60M413.47 1158.50h5.60" stroke="#0000ff" stroke-width="0.8" fill="none"/>
<g fill="#0000ff"><circle cx="79.39" cy="1219.20" r="2.8"/><circle cx="121.50" cy="1216.80" r="2.8"/><circle cx="163.61" cy="1208.70" r="2.8"/><circle cx="205.72" cy="1195.60" r="2.8"/><circle cx="247.83" cy="1180.50" r="2.8"/><circle cx="289.94" cy="1167.50" r="2.8"/><circle cx="332.05" cy="1159.50" r="2.8"/><circle cx="374.16" cy="1155.60" r="2.8"/><circle cx="416.27" cy="1155.50" r="2.8"/><circle cx="458.38" cy="1154.70" r="2.8"/></g>
<path d="M82.89 1185.30V1215.90M80.09 1185.30h5.60M80.09 1215.90h5.60M125.00 1184.20V1211.40M122.20 1184.20h5.60M122.20 1211.40h5.60M167.11 1180.20V1199.20M164.31 1180.20h5.60M164.31 1199.20h5.60M209.22 1172.00V1185.60M206.42 1172.00h5.60M206.42 1185.60h5.60M251.33 1163.10V1173.70M248.53 1163.10h5.60M248.53 1173.70h5.60M293.44 1156.80V1165.80M290.64 1156.80h5.60M290.64 1165.80h5.60M335.55 1153.40V1161.40M332.75 1153.40h5.60M332.75 1161.40h5.60M377.66 1152.50V1160.50M374.86 1152.50h5.60M374.86 1160.50h5.60M419.77 1153.50V1159.50M416.97 1153.50h5.60M416.97 1159.50h5.60M461.88 1152.50V1158.50M459.08 1152.50h5.60M459.08 1158.50h5.60" stroke="#800080" stroke-width="0.8" fill="none"/>
<g fill="#800080"><circle cx="82.89" cy="1200.60" r="2.8"/><circle cx="125.00" cy="1197.80" r="2.8"/><circle cx="167.11" cy="1189.70" r="2.8"/><circle cx="209.22" cy="1178.80" r="2.8"/><circle cx="251.33" cy="1168.40" r="2.8"/><circle cx="293.44" cy="1161.30" r="2.8"/><circle cx="335.55" cy="1157.40" r="2.8"/><circle cx="377.66" cy="1156.50" r="2.8"/><circle cx="419.77" cy="1156.50" r="2.8"/><circle cx="461.88" cy="1155.50" r="2.8"/></g>
<path d="M86.39 1161.10V1212.50M83.59 1161.10h5.60M83.59 1212.50h5.60M128.50 1162.30V1207.10M125.70 1162.30h5.60M125.70 1207.10h5.60M170.61 1162.60V1195.80M167.81 1162.60h5.60M167.81 1195.80h5.60M212.72 1159.60V1182.60M209.92 1159.60h5.60M209.92 1182.60h5.60M254.83 1155.20V1171.80M252.03 1155.20h5.60M252.03 1171.80h5.60M296.94 1151.90V1167.10M294.14 1151.90h5.60M294.14 1167.10h5.60M339.05 1151.40V1166.00M336.25 1151.40h5.60M336.25 1166.00h5.60M381.16 1153.10V1166.70M378.36 1153.10h5.60M378.36 1166.70h5.60M423.27 1153.80V1167.00M420.47 1153.80h5.60M420.47 1167.00h5.60M465.38 1153.90V1165.90M462.58 1153.90h5.60M462.58 1165.90h5.60" stroke="#000000" stroke-width="0.8" fill="none"/>
<g fill="#000000"><circle cx="86.39" cy="1186.80" r="2.8"/><circle cx="128.50" cy="1184.70" r="2.8"/><circle cx="170.61" cy="1179.20" r="2.8"/><circle cx="212.72" cy="1171.10" r="2.8"/><circle cx="254.83" cy="1163.50" r="2.8"/><circle cx="296.94" cy="1159.50" r="2.8"/><circle cx="339.05" cy="1158.70" r="2.8"/><circle cx="381.16" cy="1159.90" r="2.8"/><circle cx="423.27" cy="1160.40" r="2.8"/><circle cx="465.38" cy="1159.90" r="2.8"/></g>
</g>
<rect x="65.50" y="971.50" width="423.00" height="261.00" fill="none" stroke="#444444" stroke-width="1"/>
<path d="M68.50 1232.50v-4.7M68.50 971.50v4.7M86.50 1232.50v-2.9M86.50 971.50v2.9M103.50 1232.50v-2.9M103.50 971.50v2.9M121.50 1232.50v-2.9M121.50 971.50v2.9M138.50 1232.50v-4.7M138.50 971.50v4.7M156.50 1232.50v-2.9M156.50 971.50v2.9M173.50 1232.50v-2.9M173.50 971.50v2.9M191.50 1232.50v-2.9M191.50 971.50v2.9M208.50 1232.50v-4.7M208.50 971.50v4.7M226.50 1232.50v-2.9M226.50 971.50v2.9M243.50 1232.50v-2.9M243.50 971.50v2.9M261.50 1232.50v-2.9M261.50 971.50v2.9M278.50 1232.50v-4.7M278.50 971.50v4.7M296.50 1232.50v-2.9M296.50 971.50v2.9M313.50 1232.50v-2.9M313.50 971.50v2.9M331.50 1232.50v-2.9M331.50 971.50v2.9M348.50 1232.50v-4.7M348.50 971.50v4.7M366.50 1232.50v-2.9M366.50 971.50v2.9M383.50 1232.50v-2.9M383.50 971.50v2.9M401.50 1232.50v-2.9M401.50 971.50v2.9M418.50 1232.50v-4.7M418.50 971.50v4.7M436.50 1232.50v-2.9M436.50 971.50v2.9M453.50 1232.50v-2.9M453.50 971.50v2.9M471.50 1232.50v-2.9M471.50 971.50v2.9M488.50 1232.50v-4.7M488.50 971.50v4.7M65.50 1231.50h2.9M488.50 1231.50h-2.9M65.50 1223.50h2.9M488.50 1223.50h-2.9M65.50 1214.50h4.7M488.50 1214.50h-4.7M65.50 1206.50h2.9M488.50 1206.50h-2.9M65.50 1197.50h2.9M488.50 1197.50h-2.9M65.50 1189.50h2.9M488.50 1189.50h-2.9M65.50 1181.50h4.7M488.50 1181.50h-4.7M65.50 1172.50h2.9M488.50 1172.50h-2.9M65.50 1164.50h2.9M488.50 1164.50h-2.9M65.50 1155.50h2.9M488.50 1155.50h-2.9M65.50 1147.50h4.7M488.50 1147.50h-4.7M65.50 1139.50h2.9M488.50 1139.50h-2.9M65.50 1130.50h2.9M488.50 1130.50h-2.9M65.50 1122.50h2.9M488.50 1122.50h-2.9M65.50 1113.50h4.7M488.50 1113.50h-4.7M65.50 1105.50h2.9M488.50 1105.50h-2.9M65.50 1097.50h2.9M488.50 1097.50h-2.9M65.50 1088.50h2.9M488.50 1088.50h-2.9M65.50 1080.50h4.7M488.50 1080.50h-4.7M65.50 1071.50h2.9M488.50 1071.50h-2.9M65.50 1063.50h2.9M488.50 1063.50h-2.9M65.50 1054.50h2.9M488.50 1054.50h-2.9M65.50 1046.50h4.7M488.50 1046.50h-4.7M65.50 1038.50h2.9M488.50 1038.50h-2.9M65.50 1029.50h2.9M488.50 1029.50h-2.9M65.50 1021.50h2.9M488.50 1021.50h-2.9M65.50 1012.50h4.7M488.50 1012.50h-4.7M65.50 1004.50h2.9M488.50 1004.50h-2.9M65.50 996.50h2.9M488.50 996.50h-2.9M65.50 987.50h2.9M488.50 987.50h-2.9M65.50 979.50h4.7M488.50 979.50h-4.7" stroke="#444444" stroke-width="1" fill="none"/>
<g font-size="15.4" text-anchor="middle"><text x="68.90" y="1248.80">0.0</text><text x="138.85" y="1248.80">0.2</text><text x="208.80" y="1248.80">0.4</text><text x="278.75" y="1248.80">0.6</text><text x="348.70" y="1248.80">0.8</text><text x="418.65" y="1248.80">1.0</text><text x="488.60" y="1248.80">1.2</text></g>
<g font-size="15.4" text-anchor="end"><text x="63.60" y="1219.82">−0.4</text><text x="63.60" y="1186.16">−0.2</text><text x="63.60" y="1152.50">0.0</text><text x="63.60" y="1118.84">0.2</text><text x="63.60" y="1085.18">0.4</text><text x="63.60" y="1051.52">0.6</text><text x="63.60" y="1017.86">0.8</text><text x="63.60" y="984.20">1.0</text></g>
<text x="277.00" y="1274.50" text-anchor="middle" font-size="19.3">z (fm)</text>
<g transform="translate(19.50,1135.90) rotate(-90)"><text x="0.00" y="0.00" font-size="18.8">h</text><text x="10.40" y="-9.05" font-size="13.0">B</text><text x="10.65" y="5.35" font-size="13.0" font-style="italic">π</text><text x="20.16" y="0.00" font-size="18.8">(</text><text x="26.62" y="0.00" font-size="18.8" font-style="italic">z</text><text x="35.02" y="0.00" font-size="18.8">,</text><text x="41.10" y="0.00" font-size="18.8" font-style="italic">P</text><text x="53.34" y="3.85" font-size="13.0">z</text><text x="61.44" y="0.00" font-size="18.8">)</text></g>
<clipPath id="c10"><rect x="575.50" y="971.50" width="423.00" height="261.00"/></clipPath><g clip-path="url(#c10)">
<line x1="575.50" y1="1182.30" x2="998.50" y2="1182.30" stroke="#000" stroke-width="1.8"/>
<g fill="#ff0000"><circle cx="578.95" cy="981.20" r="2.8"/><circle cx="621.05" cy="1011.90" r="2.8"/><circle cx="663.16" cy="1077.90" r="2.8"/><circle cx="705.26" cy="1135.90" r="2.8"/><circle cx="747.37" cy="1168.20" r="2.8"/><circle cx="789.47" cy="1181.20" r="2.8"/><circle cx="831.57" cy="1185.50" r="2.8"/><circle cx="873.68" cy="1185.60" r="2.8"/><circle cx="915.78" cy="1184.70" r="2.8"/><circle cx="957.88" cy="1183.70" r="2.8"/></g>
<path d="M582.45 1087.60V1098.00M579.65 1087.60h5.60M579.65 1098.00h5.60M624.55 1105.50V1114.30M621.75 1105.50h5.60M621.75 1114.30h5.60M666.65 1142.20V1149.20M663.85 1142.20h5.60M663.85 1149.20h5.60M708.76 1173.00V1178.00M705.96 1173.00h5.60M705.96 1178.00h5.60" stroke="#ff8000" stroke-width="0.8" fill="none"/>
<g fill="#ff8000"><circle cx="582.45" cy="1092.80" r="2.8"/><circle cx="624.55" cy="1109.90" r="2.8"/><circle cx="666.65" cy="1145.70" r="2.8"/><circle cx="708.76" cy="1175.50" r="2.8"/><circle cx="750.86" cy="1190.40" r="2.8"/><circle cx="792.97" cy="1193.50" r="2.8"/><circle cx="835.07" cy="1192.20" r="2.8"/><circle cx="877.17" cy="1190.10" r="2.8"/><circle cx="919.28" cy="1187.80" r="2.8"/><circle cx="961.38" cy="1186.00" r="2.8"/></g>
<path d="M585.94 1158.10V1177.10M583.14 1158.10h5.60M583.14 1177.10h5.60M628.05 1167.10V1183.90M625.25 1167.10h5.60M625.25 1183.90h5.60M670.15 1185.30V1197.10M667.35 1185.30h5.60M667.35 1197.10h5.60M712.26 1197.60V1206.80M709.46 1197.60h5.60M709.46 1206.80h5.60M754.36 1200.40V1206.40M751.56 1200.40h5.60M751.56 1206.40h5.60M796.46 1197.20V1203.20M793.66 1197.20h5.60M793.66 1203.20h5.60" stroke="#00a800" stroke-width="0.8" fill="none"/>
<g fill="#00a800"><circle cx="585.94" cy="1167.60" r="2.8"/><circle cx="628.05" cy="1175.50" r="2.8"/><circle cx="670.15" cy="1191.20" r="2.8"/><circle cx="712.26" cy="1202.20" r="2.8"/><circle cx="754.36" cy="1203.40" r="2.8"/><circle cx="796.46" cy="1200.20" r="2.8"/><circle cx="838.57" cy="1195.80" r="2.8"/><circle cx="880.67" cy="1192.60" r="2.8"/><circle cx="922.78" cy="1190.10" r="2.8"/><circle cx="964.88" cy="1187.80" r="2.8"/></g>
<path d="M589.44 1202.90V1227.70M586.64 1202.90h5.60M586.64 1227.70h5.60M631.54 1205.00V1226.80M628.74 1205.00h5.60M628.74 1226.80h5.60M673.65 1207.20V1223.40M670.85 1207.20h5.60M670.85 1223.40h5.60M715.75 1205.20V1216.60M712.95 1205.20h5.60M712.95 1216.60h5.60M757.86 1200.30V1207.30M755.06 1200.30h5.60M755.06 1207.30h5.60M799.96 1193.20V1200.20M797.16 1193.20h5.60M797.16 1200.20h5.60M842.06 1189.20V1195.20M839.26 1189.20h5.60M839.26 1195.20h5.60M884.17 1187.10V1193.10M881.37 1187.10h5.60M881.37 1193.10h5.60M926.27 1186.50V1192.50M923.47 1186.50h5.60M923.47 1192.50h5.60" stroke="#0000ff" stroke-width="0.8" fill="none"/>
<g fill="#0000ff"><circle cx="589.44" cy="1215.30" r="2.8"/><circle cx="631.54" cy="1215.90" r="2.8"/><circle cx="673.65" cy="1215.30" r="2.8"/><circle cx="715.75" cy="1210.90" r="2.8"/><circle cx="757.86" cy="1203.80" r="2.8"/><circle cx="799.96" cy="1196.70" r="2.8"/><circle cx="842.06" cy="1192.20" r="2.8"/><circle cx="884.17" cy="1190.10" r="2.8"/><circle cx="926.27" cy="1189.50" r="2.8"/><circle cx="968.38" cy="1188.10" r="2.8"/></g>
<path d="M592.94 1183.30V1209.30M590.14 1183.30h5.60M590.14 1209.30h5.60M635.04 1185.30V1207.30M632.24 1185.30h5.60M632.24 1207.30h5.60M677.15 1186.80V1205.80M674.35 1186.80h5.60M674.35 1205.80h5.60M719.25 1188.10V1200.10M716.45 1188.10h5.60M716.45 1200.10h5.60M761.35 1187.10V1195.50M758.55 1187.10h5.60M758.55 1195.50h5.60M803.46 1185.50V1193.50M800.66 1185.50h5.60M800.66 1193.50h5.60M845.56 1185.00V1193.00M842.76 1185.00h5.60M842.76 1193.00h5.60M887.67 1186.00V1193.00M884.87 1186.00h5.60M884.87 1193.00h5.60M929.77 1186.90V1192.90M926.97 1186.90h5.60M926.97 1192.90h5.60M971.87 1186.20V1191.20M969.07 1186.20h5.60M969.07 1191.20h5.60" stroke="#800080" stroke-width="0.8" fill="none"/>
<g fill="#800080"><circle cx="592.94" cy="1196.30" r="2.8"/><circle cx="635.04" cy="1196.30" r="2.8"/><circle cx="677.15" cy="1196.30" r="2.8"/><circle cx="719.25" cy="1194.10" r="2.8"/><circle cx="761.35" cy="1191.30" r="2.8"/><circle cx="803.46" cy="1189.50" r="2.8"/><circle cx="845.56" cy="1189.00" r="2.8"/><circle cx="887.67" cy="1189.50" r="2.8"/><circle cx="929.77" cy="1189.90" r="2.8"/><circle cx="971.87" cy="1188.70" r="2.8"/></g>
<path d="M596.44 1156.30V1205.50M593.64 1156.30h5.60M593.64 1205.50h5.60M638.54 1161.20V1205.00M635.74 1161.20h5.60M635.74 1205.00h5.60M680.64 1172.90V1203.90M677.84 1172.90h5.60M677.84 1203.90h5.60M722.75 1181.20V1202.60M719.95 1181.20h5.60M719.95 1202.60h5.60M764.85 1185.30V1201.90M762.05 1185.30h5.60M762.05 1201.90h5.60M806.95 1187.80V1202.00M804.15 1187.80h5.60M804.15 1202.00h5.60M849.06 1189.30V1202.90M846.26 1189.30h5.60M846.26 1202.90h5.60M891.16 1190.60V1203.40M888.36 1190.60h5.60M888.36 1203.40h5.60M933.27 1190.00V1202.20M930.47 1190.00h5.60M930.47 1202.20h5.60M975.37 1187.70V1199.30M972.57 1187.70h5.60M972.57 1199.30h5.60" stroke="#000000" stroke-width="0.8" fill="none"/>
<g fill="#000000"><circle cx="596.44" cy="1180.90" r="2.8"/><circle cx="638.54" cy="1183.10" r="2.8"/><circle cx="680.64" cy="1188.40" r="2.8"/><circle cx="722.75" cy="1191.90" r="2.8"/><circle cx="764.85" cy="1193.60" r="2.8"/><circle cx="806.95" cy="1194.90" r="2.8"/><circle cx="849.06" cy="1196.10" r="2.8"/><circle cx="891.16" cy="1197.00" r="2.8"/><circle cx="933.27" cy="1196.10" r="2.8"/><circle cx="975.37" cy="1193.50" r="2.8"/></g>
</g>
<rect x="575.50" y="971.50" width="423.00" height="261.00" fill="none" stroke="#444444" stroke-width="1"/>
<path d="M578.50 1232.50v-4.7M578.50 971.50v4.7M596.50 1232.50v-2.9M596.50 971.50v2.9M613.50 1232.50v-2.9M613.50 971.50v2.9M631.50 1232.50v-2.9M631.50 971.50v2.9M648.50 1232.50v-4.7M648.50 971.50v4.7M666.50 1232.50v-2.9M666.50 971.50v2.9M683.50 1232.50v-2.9M683.50 971.50v2.9M701.50 1232.50v-2.9M701.50 971.50v2.9M718.50 1232.50v-4.7M718.50 971.50v4.7M736.50 1232.50v-2.9M736.50 971.50v2.9M753.50 1232.50v-2.9M753.50 971.50v2.9M771.50 1232.50v-2.9M771.50 971.50v2.9M788.50 1232.50v-4.7M788.50 971.50v4.7M806.50 1232.50v-2.9M806.50 971.50v2.9M823.50 1232.50v-2.9M823.50 971.50v2.9M841.50 1232.50v-2.9M841.50 971.50v2.9M858.50 1232.50v-4.7M858.50 971.50v4.7M876.50 1232.50v-2.9M876.50 971.50v2.9M893.50 1232.50v-2.9M893.50 971.50v2.9M911.50 1232.50v-2.9M911.50 971.50v2.9M928.50 1232.50v-4.7M928.50 971.50v4.7M946.50 1232.50v-2.9M946.50 971.50v2.9M963.50 1232.50v-2.9M963.50 971.50v2.9M981.50 1232.50v-2.9M981.50 971.50v2.9M998.50 1232.50v-4.7M998.50 971.50v4.7M575.50 1222.50h4.7M998.50 1222.50h-4.7M575.50 1212.50h2.9M998.50 1212.50h-2.9M575.50 1202.50h2.9M998.50 1202.50h-2.9M575.50 1192.50h2.9M998.50 1192.50h-2.9M575.50 1182.50h4.7M998.50 1182.50h-4.7M575.50 1172.50h2.9M998.50 1172.50h-2.9M575.50 1162.50h2.9M998.50 1162.50h-2.9M575.50 1152.50h2.9M998.50 1152.50h-2.9M575.50 1142.50h4.7M998.50 1142.50h-4.7M575.50 1132.50h2.9M998.50 1132.50h-2.9M575.50 1121.50h2.9M998.50 1121.50h-2.9M575.50 1111.50h2.9M998.50 1111.50h-2.9M575.50 1101.50h4.7M998.50 1101.50h-4.7M575.50 1091.50h2.9M998.50 1091.50h-2.9M575.50 1081.50h2.9M998.50 1081.50h-2.9M575.50 1071.50h2.9M998.50 1071.50h-2.9M575.50 1061.50h4.7M998.50 1061.50h-4.7M575.50 1051.50h2.9M998.50 1051.50h-2.9M575.50 1041.50h2.9M998.50 1041.50h-2.9M575.50 1031.50h2.9M998.50 1031.50h-2.9M575.50 1021.50h4.7M998.50 1021.50h-4.7M575.50 1011.50h2.9M998.50 1011.50h-2.9M575.50 1001.50h2.9M998.50 1001.50h-2.9M575.50 991.50h2.9M998.50 991.50h-2.9M575.50 981.50h4.7M998.50 981.50h-4.7M575.50 971.50h2.9M998.50 971.50h-2.9" stroke="#444444" stroke-width="1" fill="none"/>
<g font-size="15.4" text-anchor="middle"><text x="578.95" y="1248.80">0.0</text><text x="648.89" y="1248.80">0.2</text><text x="718.83" y="1248.80">0.4</text><text x="788.77" y="1248.80">0.6</text><text x="858.71" y="1248.80">0.8</text><text x="928.65" y="1248.80">1.0</text><text x="998.59" y="1248.80">1.2</text></g>
<g font-size="15.4" text-anchor="end"><text x="573.60" y="1227.52">−0.2</text><text x="573.60" y="1187.30">0.0</text><text x="573.60" y="1147.08">0.2</text><text x="573.60" y="1106.86">0.4</text><text x="573.60" y="1066.64">0.6</text><text x="573.60" y="1026.42">0.8</text><text x="573.60" y="986.20">1.0</text></g>
<text x="787.00" y="1274.50" text-anchor="middle" font-size="19.3">z (fm)</text>
<g transform="translate(529.55,1135.90) rotate(-90)"><text x="0.00" y="0.00" font-size="18.8">h</text><text x="10.40" y="-9.05" font-size="13.0">B</text><text x="10.65" y="5.35" font-size="13.0" font-style="italic">π</text><text x="20.16" y="0.00" font-size="18.8">(</text><text x="26.62" y="0.00" font-size="18.8" font-style="italic">z</text><text x="35.02" y="0.00" font-size="18.8">,</text><text x="41.10" y="0.00" font-size="18.8" font-style="italic">P</text><text x="53.34" y="3.85" font-size="13.0">z</text><text x="61.44" y="0.00" font-size="18.8">)</text></g>
<clipPath id="c11"><rect x="1062.50" y="957.50" width="446.00" height="275.00"/></clipPath><g clip-path="url(#c11)">
<line x1="1062.50" y1="1215.40" x2="1508.50" y2="1215.40" stroke="#000" stroke-width="1.8"/>
<path d="M1155.01 1170.40V1174.40M1152.21 1170.40h5.60M1152.21 1174.40h5.60M1199.37 1179.50V1185.50M1196.57 1179.50h5.60M1196.57 1185.50h5.60M1243.72 1186.40V1194.20M1240.92 1186.40h5.60M1240.92 1194.20h5.60M1288.08 1191.20V1201.20M1285.28 1191.20h5.60M1285.28 1201.20h5.60M1332.43 1195.90V1205.50M1329.63 1195.90h5.60M1329.63 1205.50h5.60M1376.79 1200.00V1209.00M1373.99 1200.00h5.60M1373.99 1209.00h5.60M1421.14 1203.50V1212.50M1418.34 1203.50h5.60M1418.34 1212.50h5.60M1465.50 1206.40V1214.40M1462.70 1206.40h5.60M1462.70 1214.40h5.60" stroke="#ff0000" stroke-width="0.8" fill="none"/>
<g fill="#ff0000"><circle cx="1066.30" cy="1158.20" r="2.8"/><circle cx="1110.66" cy="1162.60" r="2.8"/><circle cx="1155.01" cy="1172.40" r="2.8"/><circle cx="1199.37" cy="1182.50" r="2.8"/><circle cx="1243.72" cy="1190.30" r="2.8"/><circle cx="1288.08" cy="1196.20" r="2.8"/><circle cx="1332.43" cy="1200.70" r="2.8"/><circle cx="1376.79" cy="1204.50" r="2.8"/><circle cx="1421.14" cy="1208.00" r="2.8"/><circle cx="1465.50" cy="1210.40" r="2.8"/></g>
<path d="M1069.98 1084.80V1113.60M1067.18 1084.80h5.60M1067.18 1113.60h5.60M1114.34 1095.30V1121.90M1111.54 1095.30h5.60M1111.54 1121.90h5.60M1158.69 1120.50V1141.70M1155.89 1120.50h5.60M1155.89 1141.70h5.60M1203.05 1147.60V1163.60M1200.25 1147.60h5.60M1200.25 1163.60h5.60M1247.41 1169.40V1182.60M1244.61 1169.40h5.60M1244.61 1182.60h5.60M1291.76 1186.40V1196.40M1288.96 1186.40h5.60M1288.96 1196.40h5.60M1336.12 1197.80V1206.80M1333.32 1197.80h5.60M1333.32 1206.80h5.60M1380.47 1203.50V1212.50M1377.67 1203.50h5.60M1377.67 1212.50h5.60M1424.83 1206.30V1215.30M1422.03 1206.30h5.60M1422.03 1215.30h5.60M1469.18 1208.10V1216.10M1466.38 1208.10h5.60M1466.38 1216.10h5.60" stroke="#ff8000" stroke-width="0.8" fill="none"/>
<g fill="#ff8000"><circle cx="1069.98" cy="1099.20" r="2.8"/><circle cx="1114.34" cy="1108.60" r="2.8"/><circle cx="1158.69" cy="1131.10" r="2.8"/><circle cx="1203.05" cy="1155.60" r="2.8"/><circle cx="1247.41" cy="1176.00" r="2.8"/><circle cx="1291.76" cy="1191.40" r="2.8"/><circle cx="1336.12" cy="1202.30" r="2.8"/><circle cx="1380.47" cy="1208.00" r="2.8"/><circle cx="1424.83" cy="1210.80" r="2.8"/><circle cx="1469.18" cy="1212.10" r="2.8"/></g>
<path d="M1073.67 974.90V1039.70M1070.87 974.90h5.60M1070.87 1039.70h5.60M1118.02 996.60V1055.60M1115.22 996.60h5.60M1115.22 1055.60h5.60M1162.38 1046.60V1093.20M1159.58 1046.60h5.60M1159.58 1093.20h5.60M1206.73 1100.50V1133.30M1203.93 1100.50h5.60M1203.93 1133.30h5.60M1251.09 1142.50V1165.70M1248.29 1142.50h5.60M1248.29 1165.70h5.60M1295.44 1169.40V1187.60M1292.64 1169.40h5.60M1292.64 1187.60h5.60M1339.80 1185.20V1201.00M1337.00 1185.20h5.60M1337.00 1201.00h5.60M1384.16 1194.10V1207.70M1381.36 1194.10h5.60M1381.36 1207.70h5.60M1428.51 1199.30V1212.10M1425.71 1199.30h5.60M1425.71 1212.10h5.60M1472.87 1202.30V1214.70M1470.07 1202.30h5.60M1470.07 1214.70h5.60" stroke="#00a800" stroke-width="0.8" fill="none"/>
<g fill="#00a800"><circle cx="1073.67" cy="1007.30" r="2.8"/><circle cx="1118.02" cy="1026.10" r="2.8"/><circle cx="1162.38" cy="1069.90" r="2.8"/><circle cx="1206.73" cy="1116.90" r="2.8"/><circle cx="1251.09" cy="1154.10" r="2.8"/><circle cx="1295.44" cy="1178.50" r="2.8"/><circle cx="1339.80" cy="1193.10" r="2.8"/><circle cx="1384.16" cy="1200.90" r="2.8"/><circle cx="1428.51" cy="1205.70" r="2.8"/><circle cx="1472.87" cy="1208.50" r="2.8"/></g>
<path d="M1077.35 945.40V1021.00M1074.55 945.40h5.60M1074.55 1021.00h5.60M1121.71 970.30V1040.30M1118.91 970.30h5.60M1118.91 1040.30h5.60M1166.06 1030.40V1084.00M1163.26 1030.40h5.60M1163.26 1084.00h5.60M1210.42 1093.60V1131.00M1207.62 1093.60h5.60M1207.62 1131.00h5.60M1254.77 1142.30V1167.90M1251.97 1142.30h5.60M1251.97 1167.90h5.60M1299.13 1172.90V1192.50M1296.33 1172.90h5.60M1296.33 1192.50h5.60M1343.48 1189.10V1205.90M1340.68 1189.10h5.60M1340.68 1205.90h5.60M1387.84 1197.20V1213.00M1385.04 1197.20h5.60M1385.04 1213.00h5.60M1432.19 1200.40V1215.60M1429.39 1200.40h5.60M1429.39 1215.60h5.60M1476.55 1201.60V1217.00M1473.75 1201.60h5.60M1473.75 1217.00h5.60" stroke="#0000ff" stroke-width="0.8" fill="none"/>
<g fill="#0000ff"><circle cx="1077.35" cy="983.20" r="2.8"/><circle cx="1121.71" cy="1005.30" r="2.8"/><circle cx="1166.06" cy="1057.20" r="2.8"/><circle cx="1210.42" cy="1112.30" r="2.8"/><circle cx="1254.77" cy="1155.10" r="2.8"/><circle cx="1299.13" cy="1182.70" r="2.8"/><circle cx="1343.48" cy="1197.50" r="2.8"/><circle cx="1387.84" cy="1205.10" r="2.8"/><circle cx="1432.19" cy="1208.00" r="2.8"/><circle cx="1476.55" cy="1209.30" r="2.8"/></g>
<path d="M1081.04 967.60V1047.00M1078.24 967.60h5.60M1078.24 1047.00h5.60M1125.39 992.30V1064.30M1122.59 992.30h5.60M1122.59 1064.30h5.60M1169.75 1049.60V1104.20M1166.95 1049.60h5.60M1166.95 1104.20h5.60M1214.10 1107.70V1146.70M1211.30 1107.70h5.60M1211.30 1146.70h5.60M1258.46 1150.60V1178.60M1255.66 1150.60h5.60M1255.66 1178.60h5.60M1302.81 1176.30V1198.50M1300.01 1176.30h5.60M1300.01 1198.50h5.60M1347.17 1190.20V1209.40M1344.37 1190.20h5.60M1344.37 1209.40h5.60M1391.52 1197.50V1214.70M1388.72 1197.50h5.60M1388.72 1214.70h5.60M1435.88 1200.70V1217.90M1433.08 1200.70h5.60M1433.08 1217.90h5.60M1480.23 1202.30V1218.50M1477.43 1202.30h5.60M1477.43 1218.50h5.60" stroke="#800080" stroke-width="0.8" fill="none"/>
<g fill="#800080"><circle cx="1081.04" cy="1007.30" r="2.8"/><circle cx="1125.39" cy="1028.30" r="2.8"/><circle cx="1169.75" cy="1076.90" r="2.8"/><circle cx="1214.10" cy="1127.20" r="2.8"/><circle cx="1258.46" cy="1164.60" r="2.8"/><circle cx="1302.81" cy="1187.40" r="2.8"/><circle cx="1347.17" cy="1199.80" r="2.8"/><circle cx="1391.52" cy="1206.10" r="2.8"/><circle cx="1435.88" cy="1209.30" r="2.8"/><circle cx="1480.23" cy="1210.40" r="2.8"/></g>
<path d="M1084.72 930.70V1056.70M1081.92 930.70h5.60M1081.92 1056.70h5.60M1129.08 964.00V1076.80M1126.28 964.00h5.60M1126.28 1076.80h5.60M1173.43 1039.20V1123.20M1170.63 1039.20h5.60M1170.63 1123.20h5.60M1217.79 1113.30V1171.70M1214.99 1113.30h5.60M1214.99 1171.70h5.60M1262.14 1162.90V1206.50M1259.34 1162.90h5.60M1259.34 1206.50h5.60M1306.50 1189.00V1227.00M1303.70 1189.00h5.60M1303.70 1227.00h5.60M1350.85 1200.40V1236.40M1348.05 1200.40h5.60M1348.05 1236.40h5.60M1395.21 1205.30V1238.30M1392.41 1205.30h5.60M1392.41 1238.30h5.60M1439.56 1206.20V1238.20M1436.76 1206.20h5.60M1436.76 1238.20h5.60M1483.92 1207.10V1236.50M1481.12 1207.10h5.60M1481.12 1236.50h5.60" stroke="#000000" stroke-width="0.8" fill="none"/>
<g fill="#000000"><circle cx="1084.72" cy="993.70" r="2.8"/><circle cx="1129.08" cy="1020.40" r="2.8"/><circle cx="1173.43" cy="1081.20" r="2.8"/><circle cx="1217.79" cy="1142.50" r="2.8"/><circle cx="1262.14" cy="1184.70" r="2.8"/><circle cx="1306.50" cy="1208.00" r="2.8"/><circle cx="1350.85" cy="1218.40" r="2.8"/><circle cx="1395.21" cy="1221.80" r="2.8"/><circle cx="1439.56" cy="1222.20" r="2.8"/><circle cx="1483.92" cy="1221.80" r="2.8"/></g>
</g>
<rect x="1062.50" y="957.50" width="446.00" height="275.00" fill="none" stroke="#444444" stroke-width="1"/>
<path d="M1066.50 1232.50v-4.7M1066.50 957.50v4.7M1084.50 1232.50v-2.9M1084.50 957.50v2.9M1103.50 1232.50v-2.9M1103.50 957.50v2.9M1121.50 1232.50v-2.9M1121.50 957.50v2.9M1139.50 1232.50v-4.7M1139.50 957.50v4.7M1158.50 1232.50v-2.9M1158.50 957.50v2.9M1176.50 1232.50v-2.9M1176.50 957.50v2.9M1195.50 1232.50v-2.9M1195.50 957.50v2.9M1213.50 1232.50v-4.7M1213.50 957.50v4.7M1232.50 1232.50v-2.9M1232.50 957.50v2.9M1250.50 1232.50v-2.9M1250.50 957.50v2.9M1268.50 1232.50v-2.9M1268.50 957.50v2.9M1287.50 1232.50v-4.7M1287.50 957.50v4.7M1305.50 1232.50v-2.9M1305.50 957.50v2.9M1324.50 1232.50v-2.9M1324.50 957.50v2.9M1342.50 1232.50v-2.9M1342.50 957.50v2.9M1361.50 1232.50v-4.7M1361.50 957.50v4.7M1379.50 1232.50v-2.9M1379.50 957.50v2.9M1397.50 1232.50v-2.9M1397.50 957.50v2.9M1416.50 1232.50v-2.9M1416.50 957.50v2.9M1434.50 1232.50v-4.7M1434.50 957.50v4.7M1453.50 1232.50v-2.9M1453.50 957.50v2.9M1471.50 1232.50v-2.9M1471.50 957.50v2.9M1489.50 1232.50v-2.9M1489.50 957.50v2.9M1508.50 1232.50v-4.7M1508.50 957.50v4.7M1062.50 1226.50h2.9M1508.50 1226.50h-2.9M1062.50 1215.50h4.7M1508.50 1215.50h-4.7M1062.50 1203.50h2.9M1508.50 1203.50h-2.9M1062.50 1192.50h2.9M1508.50 1192.50h-2.9M1062.50 1181.50h2.9M1508.50 1181.50h-2.9M1062.50 1169.50h2.9M1508.50 1169.50h-2.9M1062.50 1158.50h4.7M1508.50 1158.50h-4.7M1062.50 1146.50h2.9M1508.50 1146.50h-2.9M1062.50 1135.50h2.9M1508.50 1135.50h-2.9M1062.50 1123.50h2.9M1508.50 1123.50h-2.9M1062.50 1112.50h2.9M1508.50 1112.50h-2.9M1062.50 1101.50h4.7M1508.50 1101.50h-4.7M1062.50 1089.50h2.9M1508.50 1089.50h-2.9M1062.50 1078.50h2.9M1508.50 1078.50h-2.9M1062.50 1066.50h2.9M1508.50 1066.50h-2.9M1062.50 1055.50h2.9M1508.50 1055.50h-2.9M1062.50 1043.50h4.7M1508.50 1043.50h-4.7M1062.50 1032.50h2.9M1508.50 1032.50h-2.9M1062.50 1020.50h2.9M1508.50 1020.50h-2.9M1062.50 1009.50h2.9M1508.50 1009.50h-2.9M1062.50 998.50h2.9M1508.50 998.50h-2.9M1062.50 986.50h4.7M1508.50 986.50h-4.7M1062.50 975.50h2.9M1508.50 975.50h-2.9M1062.50 963.50h2.9M1508.50 963.50h-2.9" stroke="#444444" stroke-width="1" fill="none"/>
<g font-size="15.4" text-anchor="middle"><text x="1066.30" y="1248.80">0.0</text><text x="1139.98" y="1248.80">0.2</text><text x="1213.66" y="1248.80">0.4</text><text x="1287.34" y="1248.80">0.6</text><text x="1361.02" y="1248.80">0.8</text><text x="1434.70" y="1248.80">1.0</text><text x="1508.38" y="1248.80">1.2</text></g>
<g font-size="15.4" text-anchor="end"><text x="1060.60" y="1220.40">0</text><text x="1060.60" y="1163.20">1</text><text x="1060.60" y="1106.00">2</text><text x="1060.60" y="1048.80">3</text><text x="1060.60" y="991.60">4</text></g>
<text x="1285.50" y="1274.50" text-anchor="middle" font-size="19.3">z (fm)</text>
<g transform="translate(1039.75,1129.10) rotate(-90)"><text x="0.00" y="0.00" font-size="18.8">h</text><text x="10.40" y="-9.05" font-size="13.0">B</text><text x="10.65" y="5.35" font-size="13.0" font-style="italic">π</text><text x="20.16" y="0.00" font-size="18.8">(</text><text x="26.62" y="0.00" font-size="18.8" font-style="italic">z</text><text x="35.02" y="0.00" font-size="18.8">,</text><text x="41.10" y="0.00" font-size="18.8" font-style="italic">P</text><text x="53.34" y="3.85" font-size="13.0">z</text><text x="61.44" y="0.00" font-size="18.8">)</text></g>
<circle cx="302.1" cy="13.70" r="2.1" fill="#ff0000"/>
<text x="315.6" y="16.20" font-size="18.2" letter-spacing="0.22">P<tspan font-size="12.5" dy="4.3">z</tspan><tspan dy="-3.4">=</tspan><tspan dy="-0.9">0. GeV</tspan></text>
<circle cx="302.1" cy="40.30" r="2.1" fill="#ff8000"/>
<text x="315.6" y="42.80" font-size="18.2" letter-spacing="0.22">P<tspan font-size="12.5" dy="4.3">z</tspan><tspan dy="-3.4">=</tspan><tspan dy="-0.9">0.427 GeV</tspan></text>
<circle cx="302.1" cy="66.90" r="2.1" fill="#00a800"/>
<text x="315.6" y="69.40" font-size="18.2" letter-spacing="0.22">P<tspan font-size="12.5" dy="4.3">z</tspan><tspan dy="-3.4">=</tspan><tspan dy="-0.9">0.855 GeV</tspan></text>
<circle cx="302.1" cy="93.50" r="2.1" fill="#0000ff"/>
<text x="315.6" y="96.00" font-size="18.2" letter-spacing="0.22">P<tspan font-size="12.5" dy="4.3">z</tspan><tspan dy="-3.4">=</tspan><tspan dy="-0.9">1.28 GeV</tspan></text>
<circle cx="302.1" cy="120.10" r="2.1" fill="#800080"/>
<text x="315.6" y="122.60" font-size="18.2" letter-spacing="0.22">P<tspan font-size="12.5" dy="4.3">z</tspan><tspan dy="-3.4">=</tspan><tspan dy="-0.9">1.71 GeV</tspan></text>
<circle cx="302.1" cy="146.70" r="2.1" fill="#000000"/>
<text x="315.6" y="149.20" font-size="18.2" letter-spacing="0.22">P<tspan font-size="12.5" dy="4.3">z</tspan><tspan dy="-3.4">=</tspan><tspan dy="-0.9">2.14 GeV</tspan></text></svg></body></html>
